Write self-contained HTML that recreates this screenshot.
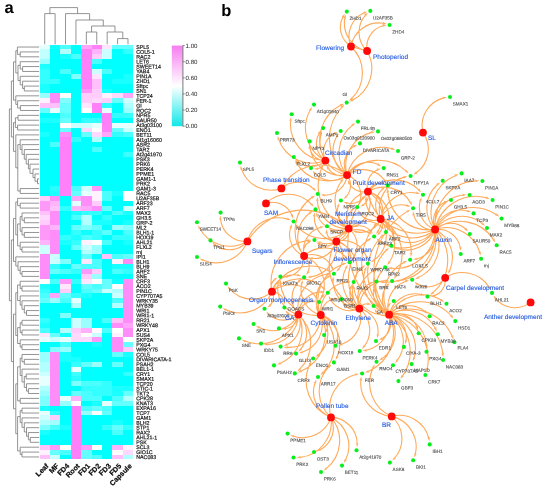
<!DOCTYPE html>
<html><head><meta charset="utf-8"><title>Figure</title>
<style>
html,body{margin:0;padding:0;background:#fff;}
body{width:550px;height:490px;overflow:hidden;font-family:"Liberation Sans",Arial,sans-serif;}
svg{display:block;text-rendering:geometricPrecision;}
</style></head><body>
<svg width="550" height="490" viewBox="0 0 550 490">
<g shape-rendering="crispEdges">
<rect x="39.5" y="44.6" width="93.70" height="414.80" fill="#00ffff"/>
<rect x="39.50" y="44.60" width="10.41" height="4.88" fill="#e6ffff"/>
<rect x="49.91" y="44.60" width="10.41" height="4.88" fill="#0fffff"/>
<rect x="60.32" y="44.60" width="10.41" height="4.88" fill="#4cffff"/>
<rect x="81.14" y="44.60" width="10.41" height="4.88" fill="#ffa6fa"/>
<rect x="91.56" y="44.60" width="10.41" height="4.88" fill="#ff80f8"/>
<rect x="101.97" y="44.60" width="10.41" height="4.88" fill="#ffe6fe"/>
<rect x="112.38" y="44.60" width="10.41" height="4.88" fill="#66ffff"/>
<rect x="122.79" y="44.60" width="10.41" height="4.88" fill="#66ffff"/>
<rect x="39.50" y="49.48" width="10.41" height="4.88" fill="#c2ffff"/>
<rect x="60.32" y="49.48" width="10.41" height="4.88" fill="#b2ffff"/>
<rect x="81.14" y="49.48" width="10.41" height="4.88" fill="#ff80f8"/>
<rect x="91.56" y="49.48" width="10.41" height="4.88" fill="#ffb3fb"/>
<rect x="101.97" y="49.48" width="10.41" height="4.88" fill="#ccffff"/>
<rect x="122.79" y="49.48" width="10.41" height="4.88" fill="#33ffff"/>
<rect x="39.50" y="54.36" width="10.41" height="4.88" fill="#c2ffff"/>
<rect x="60.32" y="54.36" width="10.41" height="4.88" fill="#1affff"/>
<rect x="70.73" y="54.36" width="10.41" height="4.88" fill="#4cffff"/>
<rect x="81.14" y="54.36" width="10.41" height="4.88" fill="#ff80f8"/>
<rect x="91.56" y="54.36" width="10.41" height="4.88" fill="#ffccfc"/>
<rect x="101.97" y="54.36" width="10.41" height="4.88" fill="#ccffff"/>
<rect x="39.50" y="59.24" width="10.41" height="4.88" fill="#99ffff"/>
<rect x="81.14" y="59.24" width="10.41" height="4.88" fill="#ff80f8"/>
<rect x="91.56" y="59.24" width="10.41" height="4.88" fill="#4cffff"/>
<rect x="39.50" y="64.12" width="10.41" height="4.88" fill="#1affff"/>
<rect x="81.14" y="64.12" width="10.41" height="4.88" fill="#ff80f8"/>
<rect x="39.50" y="69.00" width="10.41" height="4.88" fill="#33ffff"/>
<rect x="60.32" y="69.00" width="10.41" height="4.88" fill="#4cffff"/>
<rect x="81.14" y="69.00" width="10.41" height="4.88" fill="#ff80f8"/>
<rect x="91.56" y="69.00" width="10.41" height="4.88" fill="#ccffff"/>
<rect x="101.97" y="69.00" width="10.41" height="4.88" fill="#4cffff"/>
<rect x="39.50" y="73.88" width="10.41" height="4.88" fill="#33ffff"/>
<rect x="70.73" y="73.88" width="10.41" height="4.88" fill="#80ffff"/>
<rect x="81.14" y="73.88" width="10.41" height="4.88" fill="#ff80f8"/>
<rect x="91.56" y="73.88" width="10.41" height="4.88" fill="#ffe6fe"/>
<rect x="122.79" y="73.88" width="10.41" height="4.88" fill="#1affff"/>
<rect x="39.50" y="78.76" width="10.41" height="4.88" fill="#33ffff"/>
<rect x="49.91" y="78.76" width="10.41" height="4.88" fill="#33ffff"/>
<rect x="81.14" y="78.76" width="10.41" height="4.88" fill="#ff80f8"/>
<rect x="91.56" y="78.76" width="10.41" height="4.88" fill="#ffc0fc"/>
<rect x="112.38" y="78.76" width="10.41" height="4.88" fill="#1affff"/>
<rect x="122.79" y="78.76" width="10.41" height="4.88" fill="#1affff"/>
<rect x="39.50" y="83.64" width="10.41" height="4.88" fill="#1affff"/>
<rect x="81.14" y="83.64" width="10.41" height="4.88" fill="#ff80f8"/>
<rect x="91.56" y="83.64" width="10.41" height="4.88" fill="#ffc0fc"/>
<rect x="39.50" y="88.52" width="10.41" height="4.88" fill="#1affff"/>
<rect x="81.14" y="88.52" width="10.41" height="4.88" fill="#ff94f9"/>
<rect x="91.56" y="88.52" width="10.41" height="4.88" fill="#ffccfc"/>
<rect x="101.97" y="88.52" width="10.41" height="4.88" fill="#1affff"/>
<rect x="39.50" y="93.40" width="10.41" height="4.88" fill="#99ffff"/>
<rect x="49.91" y="93.40" width="10.41" height="4.88" fill="#ff8df9"/>
<rect x="60.32" y="93.40" width="10.41" height="4.88" fill="#ffffff"/>
<rect x="81.14" y="93.40" width="10.41" height="4.88" fill="#ffccfc"/>
<rect x="91.56" y="93.40" width="10.41" height="4.88" fill="#ffccfc"/>
<rect x="101.97" y="93.40" width="10.41" height="4.88" fill="#fff2fe"/>
<rect x="112.38" y="93.40" width="10.41" height="4.88" fill="#ffd9fd"/>
<rect x="122.79" y="93.40" width="10.41" height="4.88" fill="#ffa6fa"/>
<rect x="39.50" y="98.28" width="10.41" height="4.88" fill="#fff2fe"/>
<rect x="49.91" y="98.28" width="10.41" height="4.88" fill="#ff8df9"/>
<rect x="60.32" y="98.28" width="10.41" height="4.88" fill="#80ffff"/>
<rect x="81.14" y="98.28" width="10.41" height="4.88" fill="#ffccfc"/>
<rect x="91.56" y="98.28" width="10.41" height="4.88" fill="#ffd9fd"/>
<rect x="101.97" y="98.28" width="10.41" height="4.88" fill="#ffccfc"/>
<rect x="112.38" y="98.28" width="10.41" height="4.88" fill="#66ffff"/>
<rect x="122.79" y="98.28" width="10.41" height="4.88" fill="#ccffff"/>
<rect x="39.50" y="103.16" width="10.41" height="4.88" fill="#ffc0fc"/>
<rect x="49.91" y="103.16" width="10.41" height="4.88" fill="#ffc0fc"/>
<rect x="60.32" y="103.16" width="10.41" height="4.88" fill="#66ffff"/>
<rect x="81.14" y="103.16" width="10.41" height="4.88" fill="#ffe6fe"/>
<rect x="91.56" y="103.16" width="10.41" height="4.88" fill="#ff80f8"/>
<rect x="101.97" y="103.16" width="10.41" height="4.88" fill="#33ffff"/>
<rect x="122.79" y="103.16" width="10.41" height="4.88" fill="#b2ffff"/>
<rect x="39.50" y="108.04" width="10.41" height="4.88" fill="#66ffff"/>
<rect x="49.91" y="108.04" width="10.41" height="4.88" fill="#e6ffff"/>
<rect x="60.32" y="108.04" width="10.41" height="4.88" fill="#66ffff"/>
<rect x="81.14" y="108.04" width="10.41" height="4.88" fill="#ffffff"/>
<rect x="91.56" y="108.04" width="10.41" height="4.88" fill="#ff80f8"/>
<rect x="101.97" y="108.04" width="10.41" height="4.88" fill="#e6ffff"/>
<rect x="122.79" y="108.04" width="10.41" height="4.88" fill="#99ffff"/>
<rect x="60.32" y="112.92" width="10.41" height="4.88" fill="#4cffff"/>
<rect x="101.97" y="112.92" width="10.41" height="4.88" fill="#ff80f8"/>
<rect x="112.38" y="112.92" width="10.41" height="4.88" fill="#33ffff"/>
<rect x="122.79" y="112.92" width="10.41" height="4.88" fill="#33ffff"/>
<rect x="39.50" y="117.80" width="10.41" height="4.88" fill="#1affff"/>
<rect x="49.91" y="117.80" width="10.41" height="4.88" fill="#1affff"/>
<rect x="60.32" y="117.80" width="10.41" height="4.88" fill="#66ffff"/>
<rect x="81.14" y="117.80" width="10.41" height="4.88" fill="#33ffff"/>
<rect x="91.56" y="117.80" width="10.41" height="4.88" fill="#33ffff"/>
<rect x="101.97" y="117.80" width="10.41" height="4.88" fill="#ff80f8"/>
<rect x="60.32" y="122.68" width="10.41" height="4.88" fill="#ffffff"/>
<rect x="70.73" y="122.68" width="10.41" height="4.88" fill="#ccffff"/>
<rect x="81.14" y="122.68" width="10.41" height="4.88" fill="#ccffff"/>
<rect x="91.56" y="122.68" width="10.41" height="4.88" fill="#e6ffff"/>
<rect x="101.97" y="122.68" width="10.41" height="4.88" fill="#ff80f8"/>
<rect x="112.38" y="122.68" width="10.41" height="4.88" fill="#e6ffff"/>
<rect x="122.79" y="122.68" width="10.41" height="4.88" fill="#e6ffff"/>
<rect x="60.32" y="127.56" width="10.41" height="4.88" fill="#66ffff"/>
<rect x="81.14" y="127.56" width="10.41" height="4.88" fill="#ffd9fd"/>
<rect x="91.56" y="127.56" width="10.41" height="4.88" fill="#ffffff"/>
<rect x="101.97" y="127.56" width="10.41" height="4.88" fill="#ff80f8"/>
<rect x="112.38" y="127.56" width="10.41" height="4.88" fill="#66ffff"/>
<rect x="122.79" y="127.56" width="10.41" height="4.88" fill="#ccffff"/>
<rect x="39.50" y="132.44" width="10.41" height="4.88" fill="#1affff"/>
<rect x="60.32" y="132.44" width="10.41" height="4.88" fill="#ff8df9"/>
<rect x="81.14" y="132.44" width="10.41" height="4.88" fill="#66ffff"/>
<rect x="91.56" y="132.44" width="10.41" height="4.88" fill="#ffd9fd"/>
<rect x="101.97" y="132.44" width="10.41" height="4.88" fill="#ffa6fa"/>
<rect x="112.38" y="132.44" width="10.41" height="4.88" fill="#33ffff"/>
<rect x="122.79" y="132.44" width="10.41" height="4.88" fill="#4cffff"/>
<rect x="60.32" y="137.32" width="10.41" height="4.88" fill="#ff80f8"/>
<rect x="70.73" y="137.32" width="10.41" height="4.88" fill="#33ffff"/>
<rect x="91.56" y="137.32" width="10.41" height="4.88" fill="#b2ffff"/>
<rect x="49.91" y="142.20" width="10.41" height="4.88" fill="#4cffff"/>
<rect x="60.32" y="142.20" width="10.41" height="4.88" fill="#ff80f8"/>
<rect x="60.32" y="147.08" width="10.41" height="4.88" fill="#ff80f8"/>
<rect x="91.56" y="147.08" width="10.41" height="4.88" fill="#4cffff"/>
<rect x="60.32" y="151.96" width="10.41" height="4.88" fill="#ff80f8"/>
<rect x="122.79" y="151.96" width="10.41" height="4.88" fill="#3dffff"/>
<rect x="60.32" y="156.84" width="10.41" height="4.88" fill="#ff80f8"/>
<rect x="60.32" y="161.72" width="10.41" height="4.88" fill="#ff80f8"/>
<rect x="60.32" y="166.60" width="10.41" height="4.88" fill="#ff80f8"/>
<rect x="60.32" y="171.48" width="10.41" height="4.88" fill="#ff80f8"/>
<rect x="60.32" y="176.36" width="10.41" height="4.88" fill="#ff80f8"/>
<rect x="60.32" y="181.24" width="10.41" height="4.88" fill="#ff80f8"/>
<rect x="49.91" y="186.12" width="10.41" height="4.88" fill="#29ffff"/>
<rect x="60.32" y="186.12" width="10.41" height="4.88" fill="#ff80f8"/>
<rect x="70.73" y="186.12" width="10.41" height="4.88" fill="#4cffff"/>
<rect x="81.14" y="186.12" width="10.41" height="4.88" fill="#ccffff"/>
<rect x="91.56" y="186.12" width="10.41" height="4.88" fill="#ff99f9"/>
<rect x="49.91" y="191.00" width="10.41" height="4.88" fill="#1affff"/>
<rect x="60.32" y="191.00" width="10.41" height="4.88" fill="#ff80f8"/>
<rect x="70.73" y="191.00" width="10.41" height="4.88" fill="#66ffff"/>
<rect x="81.14" y="191.00" width="10.41" height="4.88" fill="#e6ffff"/>
<rect x="91.56" y="191.00" width="10.41" height="4.88" fill="#fff2fe"/>
<rect x="101.97" y="191.00" width="10.41" height="4.88" fill="#4cffff"/>
<rect x="112.38" y="191.00" width="10.41" height="4.88" fill="#1affff"/>
<rect x="122.79" y="191.00" width="10.41" height="4.88" fill="#ffffff"/>
<rect x="39.50" y="195.88" width="10.41" height="4.88" fill="#ffccfc"/>
<rect x="49.91" y="195.88" width="10.41" height="4.88" fill="#ff8df9"/>
<rect x="70.73" y="195.88" width="10.41" height="4.88" fill="#ffa6fa"/>
<rect x="81.14" y="195.88" width="10.41" height="4.88" fill="#ff8df9"/>
<rect x="91.56" y="195.88" width="10.41" height="4.88" fill="#fff2fe"/>
<rect x="101.97" y="195.88" width="10.41" height="4.88" fill="#4cffff"/>
<rect x="122.79" y="195.88" width="10.41" height="4.88" fill="#ffffff"/>
<rect x="39.50" y="200.76" width="10.41" height="4.88" fill="#ff99f9"/>
<rect x="49.91" y="200.76" width="10.41" height="4.88" fill="#ffb3fb"/>
<rect x="70.73" y="200.76" width="10.41" height="4.88" fill="#e6ffff"/>
<rect x="81.14" y="200.76" width="10.41" height="4.88" fill="#ff8df9"/>
<rect x="91.56" y="200.76" width="10.41" height="4.88" fill="#ffccfc"/>
<rect x="39.50" y="205.64" width="10.41" height="4.88" fill="#ff99f9"/>
<rect x="49.91" y="205.64" width="10.41" height="4.88" fill="#ffc0fc"/>
<rect x="60.32" y="205.64" width="10.41" height="4.88" fill="#33ffff"/>
<rect x="70.73" y="205.64" width="10.41" height="4.88" fill="#ffb3fb"/>
<rect x="81.14" y="205.64" width="10.41" height="4.88" fill="#ffa6fa"/>
<rect x="91.56" y="205.64" width="10.41" height="4.88" fill="#ff8df9"/>
<rect x="101.97" y="205.64" width="10.41" height="4.88" fill="#66ffff"/>
<rect x="122.79" y="205.64" width="10.41" height="4.88" fill="#ccffff"/>
<rect x="39.50" y="210.52" width="10.41" height="4.88" fill="#ffc0fc"/>
<rect x="49.91" y="210.52" width="10.41" height="4.88" fill="#ff8df9"/>
<rect x="70.73" y="210.52" width="10.41" height="4.88" fill="#1affff"/>
<rect x="81.14" y="210.52" width="10.41" height="4.88" fill="#33ffff"/>
<rect x="91.56" y="210.52" width="10.41" height="4.88" fill="#33ffff"/>
<rect x="112.38" y="210.52" width="10.41" height="4.88" fill="#4cffff"/>
<rect x="122.79" y="210.52" width="10.41" height="4.88" fill="#1affff"/>
<rect x="39.50" y="215.40" width="10.41" height="4.88" fill="#ffd9fd"/>
<rect x="49.91" y="215.40" width="10.41" height="4.88" fill="#ff8df9"/>
<rect x="70.73" y="215.40" width="10.41" height="4.88" fill="#4cffff"/>
<rect x="81.14" y="215.40" width="10.41" height="4.88" fill="#b2ffff"/>
<rect x="101.97" y="215.40" width="10.41" height="4.88" fill="#33ffff"/>
<rect x="39.50" y="220.28" width="10.41" height="4.88" fill="#ffccfc"/>
<rect x="49.91" y="220.28" width="10.41" height="4.88" fill="#ff8df9"/>
<rect x="81.14" y="220.28" width="10.41" height="4.88" fill="#b2ffff"/>
<rect x="91.56" y="220.28" width="10.41" height="4.88" fill="#1affff"/>
<rect x="101.97" y="220.28" width="10.41" height="4.88" fill="#1affff"/>
<rect x="122.79" y="220.28" width="10.41" height="4.88" fill="#1affff"/>
<rect x="39.50" y="225.16" width="10.41" height="4.88" fill="#ff99f9"/>
<rect x="49.91" y="225.16" width="10.41" height="4.88" fill="#ffb3fb"/>
<rect x="70.73" y="225.16" width="10.41" height="4.88" fill="#66ffff"/>
<rect x="81.14" y="225.16" width="10.41" height="4.88" fill="#80ffff"/>
<rect x="91.56" y="225.16" width="10.41" height="4.88" fill="#66ffff"/>
<rect x="112.38" y="225.16" width="10.41" height="4.88" fill="#99ffff"/>
<rect x="122.79" y="225.16" width="10.41" height="4.88" fill="#80ffff"/>
<rect x="39.50" y="230.04" width="10.41" height="4.88" fill="#ff99f9"/>
<rect x="49.91" y="230.04" width="10.41" height="4.88" fill="#ff8df9"/>
<rect x="70.73" y="230.04" width="10.41" height="4.88" fill="#33ffff"/>
<rect x="81.14" y="230.04" width="10.41" height="4.88" fill="#0fffff"/>
<rect x="91.56" y="230.04" width="10.41" height="4.88" fill="#33ffff"/>
<rect x="101.97" y="230.04" width="10.41" height="4.88" fill="#5cffff"/>
<rect x="122.79" y="230.04" width="10.41" height="4.88" fill="#4cffff"/>
<rect x="39.50" y="234.92" width="10.41" height="4.88" fill="#ff99f9"/>
<rect x="49.91" y="234.92" width="10.41" height="4.88" fill="#ff8df9"/>
<rect x="60.32" y="234.92" width="10.41" height="4.88" fill="#33ffff"/>
<rect x="70.73" y="234.92" width="10.41" height="4.88" fill="#1affff"/>
<rect x="81.14" y="234.92" width="10.41" height="4.88" fill="#4cffff"/>
<rect x="91.56" y="234.92" width="10.41" height="4.88" fill="#33ffff"/>
<rect x="112.38" y="234.92" width="10.41" height="4.88" fill="#33ffff"/>
<rect x="122.79" y="234.92" width="10.41" height="4.88" fill="#33ffff"/>
<rect x="39.50" y="239.80" width="10.41" height="4.88" fill="#ffb3fb"/>
<rect x="49.91" y="239.80" width="10.41" height="4.88" fill="#ff8df9"/>
<rect x="60.32" y="239.80" width="10.41" height="4.88" fill="#1affff"/>
<rect x="70.73" y="239.80" width="10.41" height="4.88" fill="#33ffff"/>
<rect x="81.14" y="239.80" width="10.41" height="4.88" fill="#fff2fe"/>
<rect x="91.56" y="239.80" width="10.41" height="4.88" fill="#ffffff"/>
<rect x="101.97" y="239.80" width="10.41" height="4.88" fill="#4cffff"/>
<rect x="122.79" y="239.80" width="10.41" height="4.88" fill="#1affff"/>
<rect x="39.50" y="244.68" width="10.41" height="4.88" fill="#ccffff"/>
<rect x="49.91" y="244.68" width="10.41" height="4.88" fill="#ff8df9"/>
<rect x="70.73" y="244.68" width="10.41" height="4.88" fill="#66ffff"/>
<rect x="81.14" y="244.68" width="10.41" height="4.88" fill="#ccffff"/>
<rect x="91.56" y="244.68" width="10.41" height="4.88" fill="#99ffff"/>
<rect x="39.50" y="249.56" width="10.41" height="4.88" fill="#ccffff"/>
<rect x="49.91" y="249.56" width="10.41" height="4.88" fill="#ff8df9"/>
<rect x="81.14" y="249.56" width="10.41" height="4.88" fill="#b2ffff"/>
<rect x="91.56" y="249.56" width="10.41" height="4.88" fill="#99ffff"/>
<rect x="39.50" y="254.44" width="10.41" height="4.88" fill="#ff8df9"/>
<rect x="49.91" y="254.44" width="10.41" height="4.88" fill="#ccffff"/>
<rect x="81.14" y="254.44" width="10.41" height="4.88" fill="#66ffff"/>
<rect x="101.97" y="254.44" width="10.41" height="4.88" fill="#ffc0fc"/>
<rect x="112.38" y="254.44" width="10.41" height="4.88" fill="#4cffff"/>
<rect x="122.79" y="254.44" width="10.41" height="4.88" fill="#66ffff"/>
<rect x="39.50" y="259.32" width="10.41" height="4.88" fill="#ff8df9"/>
<rect x="49.91" y="259.32" width="10.41" height="4.88" fill="#ccffff"/>
<rect x="60.32" y="259.32" width="10.41" height="4.88" fill="#80ffff"/>
<rect x="81.14" y="259.32" width="10.41" height="4.88" fill="#ffe6fe"/>
<rect x="91.56" y="259.32" width="10.41" height="4.88" fill="#4cffff"/>
<rect x="112.38" y="259.32" width="10.41" height="4.88" fill="#fff2fe"/>
<rect x="122.79" y="259.32" width="10.41" height="4.88" fill="#ff8df9"/>
<rect x="39.50" y="264.20" width="10.41" height="4.88" fill="#ff8df9"/>
<rect x="49.91" y="264.20" width="10.41" height="4.88" fill="#33ffff"/>
<rect x="70.73" y="264.20" width="10.41" height="4.88" fill="#66ffff"/>
<rect x="81.14" y="264.20" width="10.41" height="4.88" fill="#4cffff"/>
<rect x="91.56" y="264.20" width="10.41" height="4.88" fill="#4cffff"/>
<rect x="112.38" y="264.20" width="10.41" height="4.88" fill="#1affff"/>
<rect x="122.79" y="264.20" width="10.41" height="4.88" fill="#1affff"/>
<rect x="39.50" y="269.08" width="10.41" height="4.88" fill="#ff8df9"/>
<rect x="49.91" y="269.08" width="10.41" height="4.88" fill="#66ffff"/>
<rect x="60.32" y="269.08" width="10.41" height="4.88" fill="#4cffff"/>
<rect x="70.73" y="269.08" width="10.41" height="4.88" fill="#33ffff"/>
<rect x="81.14" y="269.08" width="10.41" height="4.88" fill="#ff99f9"/>
<rect x="91.56" y="269.08" width="10.41" height="4.88" fill="#ffccfc"/>
<rect x="112.38" y="269.08" width="10.41" height="4.88" fill="#4cffff"/>
<rect x="122.79" y="269.08" width="10.41" height="4.88" fill="#33ffff"/>
<rect x="39.50" y="273.96" width="10.41" height="4.88" fill="#ff8df9"/>
<rect x="81.14" y="273.96" width="10.41" height="4.88" fill="#ffccfc"/>
<rect x="91.56" y="273.96" width="10.41" height="4.88" fill="#99ffff"/>
<rect x="39.50" y="278.84" width="10.41" height="4.88" fill="#ffffff"/>
<rect x="49.91" y="278.84" width="10.41" height="4.88" fill="#4cffff"/>
<rect x="60.32" y="278.84" width="10.41" height="4.88" fill="#ff99f9"/>
<rect x="70.73" y="278.84" width="10.41" height="4.88" fill="#33ffff"/>
<rect x="81.14" y="278.84" width="10.41" height="4.88" fill="#ffe6fe"/>
<rect x="91.56" y="278.84" width="10.41" height="4.88" fill="#ffffff"/>
<rect x="101.97" y="278.84" width="10.41" height="4.88" fill="#66ffff"/>
<rect x="112.38" y="278.84" width="10.41" height="4.88" fill="#0fffff"/>
<rect x="122.79" y="278.84" width="10.41" height="4.88" fill="#ff8df9"/>
<rect x="39.50" y="283.72" width="10.41" height="4.88" fill="#1affff"/>
<rect x="60.32" y="283.72" width="10.41" height="4.88" fill="#ffe6fe"/>
<rect x="81.14" y="283.72" width="10.41" height="4.88" fill="#66ffff"/>
<rect x="91.56" y="283.72" width="10.41" height="4.88" fill="#4cffff"/>
<rect x="101.97" y="283.72" width="10.41" height="4.88" fill="#66ffff"/>
<rect x="112.38" y="283.72" width="10.41" height="4.88" fill="#ffffff"/>
<rect x="122.79" y="283.72" width="10.41" height="4.88" fill="#ff8df9"/>
<rect x="39.50" y="288.60" width="10.41" height="4.88" fill="#33ffff"/>
<rect x="60.32" y="288.60" width="10.41" height="4.88" fill="#ffccfc"/>
<rect x="81.14" y="288.60" width="10.41" height="4.88" fill="#4cffff"/>
<rect x="91.56" y="288.60" width="10.41" height="4.88" fill="#66ffff"/>
<rect x="101.97" y="288.60" width="10.41" height="4.88" fill="#ccffff"/>
<rect x="112.38" y="288.60" width="10.41" height="4.88" fill="#b2ffff"/>
<rect x="122.79" y="288.60" width="10.41" height="4.88" fill="#ff8df9"/>
<rect x="39.50" y="293.48" width="10.41" height="4.88" fill="#4cffff"/>
<rect x="49.91" y="293.48" width="10.41" height="4.88" fill="#ffa6fa"/>
<rect x="60.32" y="293.48" width="10.41" height="4.88" fill="#66ffff"/>
<rect x="70.73" y="293.48" width="10.41" height="4.88" fill="#33ffff"/>
<rect x="81.14" y="293.48" width="10.41" height="4.88" fill="#1affff"/>
<rect x="112.38" y="293.48" width="10.41" height="4.88" fill="#ccffff"/>
<rect x="122.79" y="293.48" width="10.41" height="4.88" fill="#ff8df9"/>
<rect x="39.50" y="298.36" width="10.41" height="4.88" fill="#66ffff"/>
<rect x="49.91" y="298.36" width="10.41" height="4.88" fill="#99ffff"/>
<rect x="60.32" y="298.36" width="10.41" height="4.88" fill="#4cffff"/>
<rect x="70.73" y="298.36" width="10.41" height="4.88" fill="#e6ffff"/>
<rect x="112.38" y="298.36" width="10.41" height="4.88" fill="#4cffff"/>
<rect x="122.79" y="298.36" width="10.41" height="4.88" fill="#ff8df9"/>
<rect x="70.73" y="303.24" width="10.41" height="4.88" fill="#b2ffff"/>
<rect x="112.38" y="303.24" width="10.41" height="4.88" fill="#b2ffff"/>
<rect x="122.79" y="303.24" width="10.41" height="4.88" fill="#ff8df9"/>
<rect x="122.79" y="308.12" width="10.41" height="4.88" fill="#ff8df9"/>
<rect x="60.32" y="313.00" width="10.41" height="4.88" fill="#80ffff"/>
<rect x="122.79" y="313.00" width="10.41" height="4.88" fill="#ff8df9"/>
<rect x="39.50" y="317.88" width="10.41" height="4.88" fill="#33ffff"/>
<rect x="70.73" y="317.88" width="10.41" height="4.88" fill="#ccffff"/>
<rect x="81.14" y="317.88" width="10.41" height="4.88" fill="#99ffff"/>
<rect x="101.97" y="317.88" width="10.41" height="4.88" fill="#4cffff"/>
<rect x="112.38" y="317.88" width="10.41" height="4.88" fill="#ffc0fc"/>
<rect x="122.79" y="317.88" width="10.41" height="4.88" fill="#ff8df9"/>
<rect x="39.50" y="322.76" width="10.41" height="4.88" fill="#1affff"/>
<rect x="70.73" y="322.76" width="10.41" height="4.88" fill="#ccffff"/>
<rect x="81.14" y="322.76" width="10.41" height="4.88" fill="#99ffff"/>
<rect x="112.38" y="322.76" width="10.41" height="4.88" fill="#ff8df9"/>
<rect x="122.79" y="322.76" width="10.41" height="4.88" fill="#ffa6fa"/>
<rect x="39.50" y="327.64" width="10.41" height="4.88" fill="#4cffff"/>
<rect x="60.32" y="327.64" width="10.41" height="4.88" fill="#b2ffff"/>
<rect x="70.73" y="327.64" width="10.41" height="4.88" fill="#ffccfc"/>
<rect x="81.14" y="327.64" width="10.41" height="4.88" fill="#ffaefb"/>
<rect x="91.56" y="327.64" width="10.41" height="4.88" fill="#fffaff"/>
<rect x="101.97" y="327.64" width="10.41" height="4.88" fill="#4cffff"/>
<rect x="112.38" y="327.64" width="10.41" height="4.88" fill="#ffffff"/>
<rect x="122.79" y="327.64" width="10.41" height="4.88" fill="#ff8df9"/>
<rect x="39.50" y="332.52" width="10.41" height="4.88" fill="#ffe6fe"/>
<rect x="49.91" y="332.52" width="10.41" height="4.88" fill="#66ffff"/>
<rect x="60.32" y="332.52" width="10.41" height="4.88" fill="#1affff"/>
<rect x="70.73" y="332.52" width="10.41" height="4.88" fill="#ffd9fd"/>
<rect x="81.14" y="332.52" width="10.41" height="4.88" fill="#ffffff"/>
<rect x="91.56" y="332.52" width="10.41" height="4.88" fill="#ccffff"/>
<rect x="112.38" y="332.52" width="10.41" height="4.88" fill="#fff2fe"/>
<rect x="122.79" y="332.52" width="10.41" height="4.88" fill="#ff8df9"/>
<rect x="39.50" y="337.40" width="10.41" height="4.88" fill="#e6ffff"/>
<rect x="49.91" y="337.40" width="10.41" height="4.88" fill="#ccffff"/>
<rect x="60.32" y="337.40" width="10.41" height="4.88" fill="#e6ffff"/>
<rect x="70.73" y="337.40" width="10.41" height="4.88" fill="#ffd9fd"/>
<rect x="81.14" y="337.40" width="10.41" height="4.88" fill="#ffd9fd"/>
<rect x="91.56" y="337.40" width="10.41" height="4.88" fill="#ff99f9"/>
<rect x="112.38" y="337.40" width="10.41" height="4.88" fill="#ff8df9"/>
<rect x="122.79" y="337.40" width="10.41" height="4.88" fill="#ffffff"/>
<rect x="60.32" y="342.28" width="10.41" height="4.88" fill="#4cffff"/>
<rect x="91.56" y="342.28" width="10.41" height="4.88" fill="#1affff"/>
<rect x="112.38" y="342.28" width="10.41" height="4.88" fill="#ff8df9"/>
<rect x="122.79" y="342.28" width="10.41" height="4.88" fill="#66ffff"/>
<rect x="49.91" y="347.16" width="10.41" height="4.88" fill="#80ffff"/>
<rect x="60.32" y="347.16" width="10.41" height="4.88" fill="#99ffff"/>
<rect x="112.38" y="347.16" width="10.41" height="4.88" fill="#ff8df9"/>
<rect x="122.79" y="347.16" width="10.41" height="4.88" fill="#ffccfc"/>
<rect x="39.50" y="352.04" width="10.41" height="4.88" fill="#99ffff"/>
<rect x="49.91" y="352.04" width="10.41" height="4.88" fill="#ff8df9"/>
<rect x="60.32" y="352.04" width="10.41" height="4.88" fill="#1affff"/>
<rect x="112.38" y="352.04" width="10.41" height="4.88" fill="#66ffff"/>
<rect x="122.79" y="352.04" width="10.41" height="4.88" fill="#1affff"/>
<rect x="39.50" y="356.92" width="10.41" height="4.88" fill="#99ffff"/>
<rect x="49.91" y="356.92" width="10.41" height="4.88" fill="#ff8df9"/>
<rect x="60.32" y="356.92" width="10.41" height="4.88" fill="#1affff"/>
<rect x="70.73" y="356.92" width="10.41" height="4.88" fill="#1affff"/>
<rect x="39.50" y="361.80" width="10.41" height="4.88" fill="#b2ffff"/>
<rect x="49.91" y="361.80" width="10.41" height="4.88" fill="#ff8df9"/>
<rect x="70.73" y="361.80" width="10.41" height="4.88" fill="#33ffff"/>
<rect x="81.14" y="361.80" width="10.41" height="4.88" fill="#66ffff"/>
<rect x="91.56" y="361.80" width="10.41" height="4.88" fill="#99ffff"/>
<rect x="112.38" y="361.80" width="10.41" height="4.88" fill="#66ffff"/>
<rect x="39.50" y="366.68" width="10.41" height="4.88" fill="#b2ffff"/>
<rect x="49.91" y="366.68" width="10.41" height="4.88" fill="#ff8df9"/>
<rect x="70.73" y="366.68" width="10.41" height="4.88" fill="#e6ffff"/>
<rect x="39.50" y="371.56" width="10.41" height="4.88" fill="#ccffff"/>
<rect x="49.91" y="371.56" width="10.41" height="4.88" fill="#ff8df9"/>
<rect x="70.73" y="371.56" width="10.41" height="4.88" fill="#3dffff"/>
<rect x="122.79" y="371.56" width="10.41" height="4.88" fill="#33ffff"/>
<rect x="39.50" y="376.44" width="10.41" height="4.88" fill="#e6ffff"/>
<rect x="49.91" y="376.44" width="10.41" height="4.88" fill="#ff8df9"/>
<rect x="70.73" y="376.44" width="10.41" height="4.88" fill="#29ffff"/>
<rect x="39.50" y="381.32" width="10.41" height="4.88" fill="#e6ffff"/>
<rect x="49.91" y="381.32" width="10.41" height="4.88" fill="#ff8df9"/>
<rect x="70.73" y="381.32" width="10.41" height="4.88" fill="#80ffff"/>
<rect x="81.14" y="381.32" width="10.41" height="4.88" fill="#4cffff"/>
<rect x="91.56" y="381.32" width="10.41" height="4.88" fill="#4cffff"/>
<rect x="101.97" y="381.32" width="10.41" height="4.88" fill="#33ffff"/>
<rect x="39.50" y="386.20" width="10.41" height="4.88" fill="#b2ffff"/>
<rect x="49.91" y="386.20" width="10.41" height="4.88" fill="#ff8df9"/>
<rect x="81.14" y="386.20" width="10.41" height="4.88" fill="#33ffff"/>
<rect x="91.56" y="386.20" width="10.41" height="4.88" fill="#33ffff"/>
<rect x="101.97" y="386.20" width="10.41" height="4.88" fill="#33ffff"/>
<rect x="112.38" y="386.20" width="10.41" height="4.88" fill="#1affff"/>
<rect x="122.79" y="386.20" width="10.41" height="4.88" fill="#1affff"/>
<rect x="39.50" y="391.08" width="10.41" height="4.88" fill="#99ffff"/>
<rect x="49.91" y="391.08" width="10.41" height="4.88" fill="#ff8df9"/>
<rect x="70.73" y="391.08" width="10.41" height="4.88" fill="#66ffff"/>
<rect x="81.14" y="391.08" width="10.41" height="4.88" fill="#4cffff"/>
<rect x="91.56" y="391.08" width="10.41" height="4.88" fill="#33ffff"/>
<rect x="101.97" y="391.08" width="10.41" height="4.88" fill="#33ffff"/>
<rect x="112.38" y="391.08" width="10.41" height="4.88" fill="#1affff"/>
<rect x="122.79" y="391.08" width="10.41" height="4.88" fill="#66ffff"/>
<rect x="39.50" y="395.96" width="10.41" height="4.88" fill="#80ffff"/>
<rect x="49.91" y="395.96" width="10.41" height="4.88" fill="#ff8df9"/>
<rect x="60.32" y="395.96" width="10.41" height="4.88" fill="#e6ffff"/>
<rect x="70.73" y="395.96" width="10.41" height="4.88" fill="#ffb3fb"/>
<rect x="81.14" y="395.96" width="10.41" height="4.88" fill="#4cffff"/>
<rect x="91.56" y="395.96" width="10.41" height="4.88" fill="#4cffff"/>
<rect x="112.38" y="395.96" width="10.41" height="4.88" fill="#4cffff"/>
<rect x="122.79" y="395.96" width="10.41" height="4.88" fill="#b2ffff"/>
<rect x="39.50" y="400.84" width="10.41" height="4.88" fill="#80ffff"/>
<rect x="49.91" y="400.84" width="10.41" height="4.88" fill="#ff8df9"/>
<rect x="60.32" y="400.84" width="10.41" height="4.88" fill="#99ffff"/>
<rect x="70.73" y="400.84" width="10.41" height="4.88" fill="#ffffff"/>
<rect x="91.56" y="400.84" width="10.41" height="4.88" fill="#1affff"/>
<rect x="101.97" y="400.84" width="10.41" height="4.88" fill="#e6ffff"/>
<rect x="112.38" y="400.84" width="10.41" height="4.88" fill="#66ffff"/>
<rect x="122.79" y="400.84" width="10.41" height="4.88" fill="#66ffff"/>
<rect x="39.50" y="405.72" width="10.41" height="4.88" fill="#1affff"/>
<rect x="70.73" y="405.72" width="10.41" height="4.88" fill="#ff80f8"/>
<rect x="81.14" y="405.72" width="10.41" height="4.88" fill="#4cffff"/>
<rect x="91.56" y="405.72" width="10.41" height="4.88" fill="#66ffff"/>
<rect x="101.97" y="405.72" width="10.41" height="4.88" fill="#4cffff"/>
<rect x="39.50" y="410.60" width="10.41" height="4.88" fill="#e6ffff"/>
<rect x="49.91" y="410.60" width="10.41" height="4.88" fill="#33ffff"/>
<rect x="70.73" y="410.60" width="10.41" height="4.88" fill="#ff80f8"/>
<rect x="81.14" y="410.60" width="10.41" height="4.88" fill="#99ffff"/>
<rect x="91.56" y="410.60" width="10.41" height="4.88" fill="#ffffff"/>
<rect x="101.97" y="410.60" width="10.41" height="4.88" fill="#66ffff"/>
<rect x="39.50" y="415.48" width="10.41" height="4.88" fill="#ccffff"/>
<rect x="49.91" y="415.48" width="10.41" height="4.88" fill="#ffccfc"/>
<rect x="70.73" y="415.48" width="10.41" height="4.88" fill="#ff80f8"/>
<rect x="39.50" y="420.36" width="10.41" height="4.88" fill="#b2ffff"/>
<rect x="49.91" y="420.36" width="10.41" height="4.88" fill="#a3ffff"/>
<rect x="70.73" y="420.36" width="10.41" height="4.88" fill="#ff80f8"/>
<rect x="112.38" y="420.36" width="10.41" height="4.88" fill="#1affff"/>
<rect x="39.50" y="425.24" width="10.41" height="4.88" fill="#80ffff"/>
<rect x="49.91" y="425.24" width="10.41" height="4.88" fill="#4cffff"/>
<rect x="60.32" y="425.24" width="10.41" height="4.88" fill="#1affff"/>
<rect x="70.73" y="425.24" width="10.41" height="4.88" fill="#ff80f8"/>
<rect x="101.97" y="425.24" width="10.41" height="4.88" fill="#33ffff"/>
<rect x="112.38" y="425.24" width="10.41" height="4.88" fill="#66ffff"/>
<rect x="122.79" y="425.24" width="10.41" height="4.88" fill="#33ffff"/>
<rect x="39.50" y="430.12" width="10.41" height="4.88" fill="#1affff"/>
<rect x="70.73" y="430.12" width="10.41" height="4.88" fill="#ff80f8"/>
<rect x="112.38" y="430.12" width="10.41" height="4.88" fill="#4cffff"/>
<rect x="70.73" y="435.00" width="10.41" height="4.88" fill="#ff80f8"/>
<rect x="70.73" y="439.88" width="10.41" height="4.88" fill="#ff80f8"/>
<rect x="39.50" y="444.76" width="10.41" height="4.88" fill="#ffc0fc"/>
<rect x="49.91" y="444.76" width="10.41" height="4.88" fill="#ff99f9"/>
<rect x="60.32" y="444.76" width="10.41" height="4.88" fill="#ffffff"/>
<rect x="70.73" y="444.76" width="10.41" height="4.88" fill="#ff80f8"/>
<rect x="81.14" y="444.76" width="10.41" height="4.88" fill="#ff99f9"/>
<rect x="91.56" y="444.76" width="10.41" height="4.88" fill="#ffffff"/>
<rect x="112.38" y="444.76" width="10.41" height="4.88" fill="#ffb3fb"/>
<rect x="122.79" y="444.76" width="10.41" height="4.88" fill="#fff2fe"/>
<rect x="39.50" y="449.64" width="10.41" height="4.88" fill="#fff2fe"/>
<rect x="49.91" y="449.64" width="10.41" height="4.88" fill="#66ffff"/>
<rect x="60.32" y="449.64" width="10.41" height="4.88" fill="#4cffff"/>
<rect x="70.73" y="449.64" width="10.41" height="4.88" fill="#ff80f8"/>
<rect x="81.14" y="449.64" width="10.41" height="4.88" fill="#66ffff"/>
<rect x="112.38" y="449.64" width="10.41" height="4.88" fill="#ffffff"/>
<rect x="122.79" y="449.64" width="10.41" height="4.88" fill="#ffd9fd"/>
<rect x="39.50" y="454.52" width="10.41" height="4.88" fill="#ffc0fc"/>
<rect x="49.91" y="454.52" width="10.41" height="4.88" fill="#ccffff"/>
<rect x="70.73" y="454.52" width="10.41" height="4.88" fill="#ff80f8"/>
<rect x="81.14" y="454.52" width="10.41" height="4.88" fill="#66ffff"/>
<rect x="91.56" y="454.52" width="10.41" height="4.88" fill="#4cffff"/>
<rect x="112.38" y="454.52" width="10.41" height="4.88" fill="#ffc0fc"/>
<rect x="122.79" y="454.52" width="10.41" height="4.88" fill="#b2ffff"/>
</g>
<g fill="none" stroke="#787878" stroke-width="0.8">
<path d="M44.71 44.30V13.60H55.12V44.30"/>
<path d="M86.35 44.30V32.00H96.76V44.30"/>
<path d="M117.58 44.30V38.60H127.99V44.30"/>
<path d="M107.17 44.30V32.00H122.79V38.60"/>
<path d="M91.56 32.00V26.00H114.98V32.00"/>
<path d="M75.94 44.30V20.00H103.27V26.00"/>
<path d="M65.53 44.30V13.60H89.60V20.00"/>
<path d="M49.91 13.60V7.60H77.57V13.60"/>
<path d="M39.20 51.92H20.20V56.80H39.20"/>
<path d="M39.20 47.04H17.40V54.36H20.20"/>
<path d="M39.20 66.56H22.60V71.44H39.20"/>
<path d="M39.20 61.68H20.20V69.00H22.60"/>
<path d="M39.20 86.08H24.30V90.96H39.20"/>
<path d="M39.20 81.20H22.60V88.52H24.30"/>
<path d="M39.20 76.32H20.20V84.86H22.60"/>
<path d="M20.20 65.34H18.00V80.59H20.20"/>
<path d="M17.40 50.70H15.80V72.97H18.00"/>
<path d="M39.20 105.60H20.40V110.48H39.20"/>
<path d="M39.20 100.72H17.60V108.04H20.40"/>
<path d="M39.20 95.84H15.80V104.38H17.60"/>
<path d="M15.80 61.83H13.50V100.11H15.80"/>
<path d="M39.20 115.36H18.00V120.24H39.20"/>
<path d="M39.20 125.12H17.60V130.00H39.20"/>
<path d="M18.00 117.80H15.40V127.56H17.60"/>
<path d="M39.20 178.80H37.50V183.68H39.20"/>
<path d="M39.20 173.92H35.00V181.24H37.50"/>
<path d="M39.20 169.04H33.00V177.58H35.00"/>
<path d="M39.20 164.16H30.00V173.31H33.00"/>
<path d="M39.20 159.28H28.40V168.74H30.00"/>
<path d="M39.20 154.40H26.20V164.01H28.40"/>
<path d="M39.20 149.52H24.30V159.20H26.20"/>
<path d="M39.20 144.64H22.00V154.36H24.30"/>
<path d="M39.20 139.76H20.20V149.50H22.00"/>
<path d="M39.20 188.56H20.20V193.44H39.20"/>
<path d="M20.20 144.63H17.80V191.00H20.20"/>
<path d="M39.20 134.88H15.80V167.82H17.80"/>
<path d="M15.40 122.68H13.50V151.35H15.80"/>
<path d="M13.50 80.97H11.40V137.01H13.50"/>
<path d="M39.20 203.20H20.20V208.08H39.20"/>
<path d="M39.20 198.32H17.60V205.64H20.20"/>
<path d="M39.20 217.84H24.30V222.72H39.20"/>
<path d="M39.20 212.96H22.00V220.28H24.30"/>
<path d="M39.20 232.48H24.30V237.36H39.20"/>
<path d="M39.20 227.60H22.00V234.92H24.30"/>
<path d="M22.00 216.62H20.20V231.26H22.00"/>
<path d="M39.20 247.12H22.00V252.00H39.20"/>
<path d="M39.20 242.24H20.20V249.56H22.00"/>
<path d="M20.20 223.94H17.60V245.90H20.20"/>
<path d="M17.60 201.98H15.80V234.92H17.60"/>
<path d="M39.20 271.52H22.00V276.40H39.20"/>
<path d="M39.20 266.64H20.20V273.96H22.00"/>
<path d="M39.20 261.76H18.00V270.30H20.20"/>
<path d="M39.20 256.88H15.80V266.03H18.00"/>
<path d="M15.80 218.45H13.50V261.45H15.80"/>
<path d="M39.20 286.16H22.00V291.04H39.20"/>
<path d="M39.20 281.28H20.20V288.60H22.00"/>
<path d="M39.20 310.56H26.50V315.44H39.20"/>
<path d="M39.20 305.68H24.30V313.00H26.50"/>
<path d="M39.20 300.80H22.00V309.34H24.30"/>
<path d="M39.20 295.92H20.20V305.07H22.00"/>
<path d="M20.20 284.94H17.60V300.50H20.20"/>
<path d="M39.20 320.32H22.00V325.20H39.20"/>
<path d="M39.20 330.08H22.00V334.96H39.20"/>
<path d="M22.00 322.76H20.20V332.52H22.00"/>
<path d="M39.20 344.72H22.00V349.60H39.20"/>
<path d="M39.20 339.84H20.20V347.16H22.00"/>
<path d="M20.20 327.64H17.60V343.50H20.20"/>
<path d="M17.60 292.72H15.80V335.57H17.60"/>
<path d="M39.20 359.36H24.30V364.24H39.20"/>
<path d="M39.20 354.48H22.00V361.80H24.30"/>
<path d="M39.20 374.00H26.20V378.88H39.20"/>
<path d="M39.20 388.64H28.40V393.52H39.20"/>
<path d="M39.20 383.76H26.50V391.08H28.40"/>
<path d="M26.20 376.44H24.30V387.42H26.50"/>
<path d="M39.20 369.12H22.00V381.93H24.30"/>
<path d="M22.00 358.14H20.20V375.52H22.00"/>
<path d="M39.20 398.40H20.20V403.28H39.20"/>
<path d="M20.20 366.83H17.60V400.84H20.20"/>
<path d="M39.20 408.16H22.00V413.04H39.20"/>
<path d="M39.20 437.44H30.30V442.32H39.20"/>
<path d="M39.20 432.56H28.40V439.88H30.30"/>
<path d="M39.20 427.68H26.50V436.22H28.40"/>
<path d="M39.20 422.80H24.30V431.95H26.50"/>
<path d="M39.20 417.92H22.00V427.38H24.30"/>
<path d="M22.00 410.60H20.20V422.65H22.00"/>
<path d="M39.20 452.08H22.00V456.96H39.20"/>
<path d="M39.20 447.20H20.20V454.52H22.00"/>
<path d="M20.20 416.62H17.60V450.86H20.20"/>
<path d="M17.60 383.84H15.80V433.74H17.60"/>
<path d="M15.80 314.14H13.50V408.79H15.80"/>
<path d="M13.50 239.95H11.40V361.47H13.50"/>
<path d="M11.40 108.99H9.40V300.71H11.40"/>
</g>
<g font-family="Liberation Sans, Arial, sans-serif" font-size="5.3" fill="#141414" stroke="#141414" stroke-width="0.18">
<text transform="translate(136.2 48.94) rotate(0.15)">SPL5</text>
<text transform="translate(136.2 53.82) rotate(0.15)">COL5-1</text>
<text transform="translate(136.2 58.70) rotate(0.15)">RAC2</text>
<text transform="translate(136.2 63.58) rotate(0.15)">LET6</text>
<text transform="translate(136.2 68.46) rotate(0.15)">SWEET14</text>
<text transform="translate(136.2 73.34) rotate(0.15)">YAB4</text>
<text transform="translate(136.2 78.22) rotate(0.15)">PIN1A</text>
<text transform="translate(136.2 83.10) rotate(0.15)">ZHD1</text>
<text transform="translate(136.2 87.98) rotate(0.15)">Sftpc</text>
<text transform="translate(136.2 92.86) rotate(0.15)">SN1</text>
<text transform="translate(136.2 97.74) rotate(0.15)">TCP24</text>
<text transform="translate(136.2 102.62) rotate(0.15)">FER-1</text>
<text transform="translate(136.2 107.50) rotate(0.15)">GI</text>
<text transform="translate(136.2 112.38) rotate(0.15)">ROC2</text>
<text transform="translate(136.2 117.26) rotate(0.15)">NPR5</text>
<text transform="translate(136.2 122.14) rotate(0.15)">SAUR50</text>
<text transform="translate(136.2 127.02) rotate(0.15)">At3g03100</text>
<text transform="translate(136.2 131.90) rotate(0.15)">ENO1</text>
<text transform="translate(136.2 136.78) rotate(0.15)">BET11</text>
<text transform="translate(136.2 141.66) rotate(0.15)">At1g16060</text>
<text transform="translate(136.2 146.54) rotate(0.15)">ASR2</text>
<text transform="translate(136.2 151.42) rotate(0.15)">TAR2</text>
<text transform="translate(136.2 156.30) rotate(0.15)">At2g41970</text>
<text transform="translate(136.2 161.18) rotate(0.15)">PSK3</text>
<text transform="translate(136.2 166.06) rotate(0.15)">PRK6</text>
<text transform="translate(136.2 170.94) rotate(0.15)">PERK4</text>
<text transform="translate(136.2 175.82) rotate(0.15)">PPME1</text>
<text transform="translate(136.2 180.70) rotate(0.15)">GAM1-1</text>
<text transform="translate(136.2 185.58) rotate(0.15)">PRK2</text>
<text transform="translate(136.2 190.46) rotate(0.15)">GAM1-3</text>
<text transform="translate(136.2 195.34) rotate(0.15)">RAC5</text>
<text transform="translate(136.2 200.22) rotate(0.15)">U2AF35B</text>
<text transform="translate(136.2 205.10) rotate(0.15)">ARF23</text>
<text transform="translate(136.2 209.98) rotate(0.15)">ARF7</text>
<text transform="translate(136.2 214.86) rotate(0.15)">MAX2</text>
<text transform="translate(136.2 219.74) rotate(0.15)">GH3.5</text>
<text transform="translate(136.2 224.62) rotate(0.15)">GRP-2</text>
<text transform="translate(136.2 229.50) rotate(0.15)">ML2</text>
<text transform="translate(136.2 234.38) rotate(0.15)">BLH1-1</text>
<text transform="translate(136.2 239.26) rotate(0.15)">HOX19</text>
<text transform="translate(136.2 244.14) rotate(0.15)">AHL21</text>
<text transform="translate(136.2 249.02) rotate(0.15)">FLXL2</text>
<text transform="translate(136.2 253.90) rotate(0.15)">rnj</text>
<text transform="translate(136.2 258.78) rotate(0.15)">IPI1</text>
<text transform="translate(136.2 263.66) rotate(0.15)">BLH1</text>
<text transform="translate(136.2 268.54) rotate(0.15)">BLH9</text>
<text transform="translate(136.2 273.42) rotate(0.15)">ARF2</text>
<text transform="translate(136.2 278.30) rotate(0.15)">SNE</text>
<text transform="translate(136.2 283.18) rotate(0.15)">CRF3</text>
<text transform="translate(136.2 288.06) rotate(0.15)">ACO2</text>
<text transform="translate(136.2 292.94) rotate(0.15)">PIN1C</text>
<text transform="translate(136.2 297.82) rotate(0.15)">CYP707A5</text>
<text transform="translate(136.2 302.70) rotate(0.15)">WRKY35</text>
<text transform="translate(136.2 307.58) rotate(0.15)">MYB39</text>
<text transform="translate(136.2 312.46) rotate(0.15)">WRI1</text>
<text transform="translate(136.2 317.34) rotate(0.15)">WRI1-1</text>
<text transform="translate(136.2 322.22) rotate(0.15)">RR21</text>
<text transform="translate(136.2 327.10) rotate(0.15)">WRKY48</text>
<text transform="translate(136.2 331.98) rotate(0.15)">APX1</text>
<text transform="translate(136.2 336.86) rotate(0.15)">SUS4</text>
<text transform="translate(136.2 341.74) rotate(0.15)">SKP2A</text>
<text transform="translate(136.2 346.62) rotate(0.15)">PXG4</text>
<text transform="translate(136.2 351.50) rotate(0.15)">WRKY75</text>
<text transform="translate(136.2 356.38) rotate(0.15)">COL5</text>
<text transform="translate(136.2 361.26) rotate(0.15)">DIVARICATA-1</text>
<text transform="translate(136.2 366.14) rotate(0.15)">PSAH2</text>
<text transform="translate(136.2 371.02) rotate(0.15)">BEL1-1</text>
<text transform="translate(136.2 375.90) rotate(0.15)">CRY1</text>
<text transform="translate(136.2 380.78) rotate(0.15)">SMAX1</text>
<text transform="translate(136.2 385.66) rotate(0.15)">TCP20</text>
<text transform="translate(136.2 390.54) rotate(0.15)">STIC-1</text>
<text transform="translate(136.2 395.42) rotate(0.15)">TKT2</text>
<text transform="translate(136.2 400.30) rotate(0.15)">CPK28</text>
<text transform="translate(136.2 405.18) rotate(0.15)">KNAT3</text>
<text transform="translate(136.2 410.06) rotate(0.15)">EXPA16</text>
<text transform="translate(136.2 414.94) rotate(0.15)">TCP7</text>
<text transform="translate(136.2 419.82) rotate(0.15)">GAM1</text>
<text transform="translate(136.2 424.70) rotate(0.15)">BLH2</text>
<text transform="translate(136.2 429.58) rotate(0.15)">STP1</text>
<text transform="translate(136.2 434.46) rotate(0.15)">RAX2</text>
<text transform="translate(136.2 439.34) rotate(0.15)">AHL21-1</text>
<text transform="translate(136.2 444.22) rotate(0.15)">PSK</text>
<text transform="translate(136.2 449.10) rotate(0.15)">SCL3</text>
<text transform="translate(136.2 453.98) rotate(0.15)">GIO1C</text>
<text transform="translate(136.2 458.86) rotate(0.15)">NAC083</text>
</g>
<g font-family="Liberation Sans, Arial, sans-serif" font-size="7.2" font-weight="bold" fill="#0a0a0a" stroke="#0a0a0a" stroke-width="0.2" text-anchor="end">
<text transform="translate(49.01 466.50) rotate(-45)">Leaf</text>
<text transform="translate(59.42 466.50) rotate(-45)">MF</text>
<text transform="translate(69.83 466.50) rotate(-45)">FD4</text>
<text transform="translate(80.24 466.50) rotate(-45)">Root</text>
<text transform="translate(90.65 466.50) rotate(-45)">FD1</text>
<text transform="translate(101.06 466.50) rotate(-45)">FD2</text>
<text transform="translate(111.47 466.50) rotate(-45)">FD3</text>
<text transform="translate(121.88 466.50) rotate(-45)">FD5</text>
<text transform="translate(132.29 466.50) rotate(-45)">Capsule</text>
</g>
<defs><linearGradient id="cb" x1="0" y1="0" x2="0" y2="1"><stop offset="0" stop-color="#f77cf0"/><stop offset="0.5" stop-color="#ffffff"/><stop offset="1" stop-color="#10e8e8"/></linearGradient></defs>
<rect x="171.8" y="45.6" width="10.80" height="80.60" fill="url(#cb)"/>
<path d="M182.9 45.6V126.2" stroke="#555" stroke-width="0.8" fill="none"/>
<g font-family="Liberation Sans, Arial, sans-serif" font-size="6.1" fill="#222">
<path d="M182.9 45.60h1.8" stroke="#555" stroke-width="0.7"/>
<text x="185.6" y="47.70">1.00</text>
<path d="M182.9 61.72h1.8" stroke="#555" stroke-width="0.7"/>
<text x="185.6" y="63.82">0.80</text>
<path d="M182.9 77.84h1.8" stroke="#555" stroke-width="0.7"/>
<text x="185.6" y="79.94">0.60</text>
<path d="M182.9 93.96h1.8" stroke="#555" stroke-width="0.7"/>
<text x="185.6" y="96.06">0.40</text>
<path d="M182.9 110.08h1.8" stroke="#555" stroke-width="0.7"/>
<text x="185.6" y="112.18">0.20</text>
<path d="M182.9 126.20h1.8" stroke="#555" stroke-width="0.7"/>
<text x="185.6" y="128.30">0.00</text>
</g>
<g font-family="Liberation Sans, Arial, sans-serif" font-size="16.5" font-weight="bold" fill="#000">
<text x="4.6" y="13.4">a</text><text x="221.3" y="15.8">b</text></g>
<path fill="none" stroke="#ffaa5a" stroke-width="1.1" d="M351.0 46.5A22.5 22.5 0 0 1 343.0 16.8M351.0 46.5A26.0 26.0 0 0 1 364.1 12.8M351.0 46.5A28.3 28.3 0 0 1 383.4 23.3M351.0 46.5L367.1 51.0M351.0 46.5A36.1 36.1 0 0 1 351.7 98.5M367.1 51.0A28.4 28.4 0 0 1 344.9 17.8M367.1 51.0A25.8 25.8 0 0 1 365.5 15.2M367.1 51.0A22.0 22.0 0 0 1 383.2 25.7M367.1 51.0A35.6 35.6 0 0 1 352.7 100.1M325.4 160.6A39.6 39.6 0 0 1 340.8 105.1M325.4 160.6A36.6 36.6 0 0 1 310.3 109.9M325.4 160.6A36.7 36.7 0 0 1 290.6 120.6M325.4 160.6A35.7 35.7 0 0 1 278.6 139.3M325.4 160.6A20.9 20.9 0 0 1 319.1 133.2M325.4 160.6A15.9 15.9 0 0 1 309.7 147.9M325.4 160.6A20.4 20.4 0 0 1 298.1 161.9M325.4 160.6A10.4 10.4 0 0 1 317.4 168.7M325.4 160.6A21.4 21.4 0 0 1 334.6 133.2M347.1 175.1A16.7 16.7 0 0 1 328.2 168.5M347.1 175.1A46.5 46.5 0 0 1 342.0 107.0M347.1 175.1A28.6 28.6 0 0 1 336.9 136.2M347.1 175.1A35.0 35.0 0 0 1 352.6 125.1M347.1 175.1A21.9 21.9 0 0 1 354.1 146.1M347.1 175.1A34.3 34.3 0 0 1 371.6 132.4M347.1 175.1A36.1 36.1 0 0 1 392.0 148.7M347.1 175.1A23.9 23.9 0 0 1 378.3 164.6M347.1 175.1A23.6 23.6 0 0 1 314.8 173.4M347.1 175.1A33.8 33.8 0 0 1 321.0 134.2M347.1 175.1A36.1 36.1 0 0 1 296.5 162.9M347.1 175.1A22.4 22.4 0 0 1 324.1 195.2M347.1 175.1A16.8 16.8 0 0 1 346.1 196.7M347.1 175.1A40.7 40.7 0 0 1 406.2 171.2M347.1 175.1A21.5 21.5 0 0 1 360.0 201.2M347.1 175.1A26.8 26.8 0 0 1 384.3 179.9M347.1 175.1A32.3 32.3 0 0 1 310.0 147.9M423.0 132.6A28.6 28.6 0 0 1 443.6 97.9M423.0 132.6A28.9 28.9 0 0 1 416.2 172.8M281.4 188.4A31.3 31.3 0 0 1 241.4 168.9M281.4 188.4A23.5 23.5 0 0 1 313.7 188.9M281.4 188.4A43.0 43.0 0 0 1 340.2 170.4M266.0 203.4A21.2 21.2 0 0 1 292.0 215.2M266.0 203.4A32.0 32.0 0 0 1 311.6 204.3M367.9 191.6A17.0 17.0 0 0 1 349.2 183.2M367.9 191.6A18.1 18.1 0 0 1 377.5 169.8M367.9 191.6A13.3 13.3 0 0 1 381.6 183.2M367.9 191.6A35.4 35.4 0 0 1 418.8 189.8M367.9 191.6A18.2 18.2 0 0 1 346.9 203.0M367.9 191.6A12.0 12.0 0 0 1 363.4 204.9M367.9 191.6A30.9 30.9 0 0 1 410.4 202.4M367.9 191.6A19.4 19.4 0 0 1 382.7 210.9M367.9 191.6A26.7 26.7 0 0 1 356.5 225.7M367.9 191.6A28.4 28.4 0 0 1 388.3 226.0M367.9 191.6A29.0 29.0 0 0 1 378.0 231.3M380.7 219.0A22.0 22.0 0 0 1 382.4 189.1M380.7 219.0A33.6 33.6 0 0 1 404.2 177.1M380.7 219.0A21.9 21.9 0 0 1 407.2 205.6M380.7 219.0A9.0 9.0 0 0 1 386.9 225.6M380.7 219.0A12.0 12.0 0 0 1 379.5 232.9M380.7 219.0A18.5 18.5 0 0 1 393.6 239.7M380.7 219.0A16.8 16.8 0 0 1 359.8 213.1M380.7 219.0A19.4 19.4 0 0 1 365.9 199.7M380.7 219.0A31.3 31.3 0 0 1 416.8 193.0M380.7 219.0A32.2 32.2 0 0 1 411.2 253.3M380.7 219.0A21.4 21.4 0 0 1 356.4 231.9M380.7 219.0A31.0 31.0 0 0 1 389.3 262.2M380.7 219.0A29.7 29.7 0 0 1 373.6 260.5M380.7 219.0A40.5 40.5 0 0 1 395.9 275.9M348.7 228.6A18.7 18.7 0 0 1 338.1 206.3M348.7 228.6A14.8 14.8 0 0 1 351.7 210.3M348.7 228.6A24.6 24.6 0 0 1 317.3 215.6M348.7 228.6A29.8 29.8 0 0 1 317.3 200.4M348.7 228.6A14.0 14.0 0 0 1 331.6 230.8M348.7 228.6A35.6 35.6 0 0 1 297.4 226.7M348.7 228.6A34.3 34.3 0 0 1 341.4 181.3M348.7 228.6A11.5 11.5 0 0 1 344.3 239.2M348.7 228.6A17.0 17.0 0 0 1 370.6 231.0M348.7 228.6A21.5 21.5 0 0 1 353.8 257.3M348.7 228.6A23.2 23.2 0 0 1 320.3 242.7M348.7 228.6A24.0 24.0 0 0 1 381.7 227.1M348.7 228.6A26.7 26.7 0 0 1 360.1 194.5M348.7 228.6A46.1 46.1 0 0 1 321.6 168.0M336.3 241.5A14.1 14.1 0 0 1 319.2 244.3M336.3 241.5A11.4 11.4 0 0 1 326.6 232.7M336.3 241.5A24.5 24.5 0 0 1 314.3 215.7M336.3 241.5A15.8 15.8 0 0 1 350.4 255.8M336.3 241.5A20.7 20.7 0 0 1 338.6 269.3M336.3 241.5A22.6 22.6 0 0 1 312.1 258.4M336.3 241.5A28.2 28.2 0 0 1 356.1 276.0M336.3 241.5A24.7 24.7 0 0 1 366.6 257.3M336.3 241.5A30.8 30.8 0 0 1 310.6 276.9M336.3 241.5A24.4 24.4 0 0 1 368.9 232.7M435.1 229.5A31.6 31.6 0 0 1 437.5 184.5M435.1 229.5A39.8 39.8 0 0 1 455.5 175.4M435.1 229.5A43.4 43.4 0 0 1 475.9 180.9M435.1 229.5A31.3 31.3 0 0 1 463.1 195.0M435.1 229.5A21.5 21.5 0 0 1 444.9 202.1M435.1 229.5A41.4 41.4 0 0 1 486.5 197.8M435.1 229.5A26.7 26.7 0 0 1 467.6 211.0M435.1 229.5A43.2 43.2 0 0 1 496.5 214.7M435.1 229.5A33.3 33.3 0 0 1 482.4 223.5M435.1 229.5A22.4 22.4 0 0 1 465.7 229.0M435.1 229.5A40.7 40.7 0 0 1 493.6 239.5M435.1 229.5A22.7 22.7 0 0 1 460.3 247.5M435.1 229.5A34.9 34.9 0 0 1 479.8 252.4M435.1 229.5A23.6 23.6 0 0 1 420.3 200.6M435.1 229.5A19.6 19.6 0 0 1 413.6 214.7M435.1 229.5A31.5 31.5 0 0 1 390.8 236.4M435.1 229.5A29.9 29.9 0 0 1 397.3 248.5M435.1 229.5A25.1 25.1 0 0 1 416.5 259.0M435.1 229.5A35.4 35.4 0 0 1 418.3 277.6M435.1 229.5A39.3 39.3 0 0 1 379.0 240.7M435.1 229.5A31.6 31.6 0 0 1 449.6 270.7M435.1 229.5A43.0 43.0 0 0 1 398.5 280.7M435.1 229.5A40.1 40.1 0 0 1 391.6 268.3M435.1 229.5A50.2 50.2 0 0 1 382.9 282.2M435.1 229.5A35.5 35.5 0 0 1 385.4 225.9M435.1 229.5A41.5 41.5 0 0 1 387.7 191.9M435.1 229.5A49.4 49.4 0 0 1 369.9 199.7M435.1 229.5A43.3 43.3 0 0 1 432.7 292.8M247.4 241.4A25.2 25.2 0 0 1 220.5 219.1M247.4 241.4A34.5 34.5 0 0 1 199.6 228.2M247.4 241.4A23.7 23.7 0 0 1 215.1 245.0M247.4 241.4A33.8 33.8 0 0 1 202.7 260.1M247.4 241.4A32.2 32.2 0 0 1 287.6 219.1M247.4 241.4A65.4 65.4 0 0 1 342.3 223.2M304.1 256.0A12.2 12.2 0 0 1 308.4 242.3M304.1 256.0A30.7 30.7 0 0 1 310.0 212.7M304.1 256.0A40.7 40.7 0 0 1 312.2 197.3M304.1 256.0A23.1 23.1 0 0 1 290.7 227.3M304.1 256.0A13.6 13.6 0 0 1 308.0 272.1M304.1 256.0A20.1 20.1 0 0 1 286.9 276.7M304.1 256.0A22.2 22.2 0 0 1 332.1 267.5M304.1 256.0A29.4 29.4 0 0 1 345.7 257.1M304.1 256.0A24.0 24.0 0 0 1 320.6 227.3M304.1 256.0A31.0 31.0 0 0 1 322.1 296.3M445.2 277.8A31.5 31.5 0 0 1 489.1 287.1M445.2 277.8A16.5 16.5 0 0 1 433.9 295.8M445.2 277.8A21.2 21.2 0 0 1 417.2 283.9M530.6 302.4A25.5 25.5 0 0 1 495.4 298.4M272.0 291.7A29.9 29.9 0 0 1 229.7 288.9M272.0 291.7A34.5 34.5 0 0 1 225.8 309.8M272.0 291.7A11.1 11.1 0 0 1 274.6 279.5M272.0 291.7A22.6 22.6 0 0 1 298.0 275.1M272.0 291.7A12.0 12.0 0 0 1 270.1 305.5M272.0 291.7A12.9 12.9 0 0 1 284.2 301.0M272.0 291.7A41.3 41.3 0 0 1 328.3 270.4M272.0 291.7A35.8 35.8 0 0 1 323.4 288.0M272.0 291.7A30.9 30.9 0 0 1 315.6 296.5M272.0 291.7A42.8 42.8 0 0 1 308.0 240.4M298.4 314.6A22.0 22.0 0 0 1 268.4 313.9M298.4 314.6A10.1 10.1 0 0 1 287.7 313.1M298.4 314.6A29.3 29.3 0 0 1 259.0 327.5M298.4 314.6A15.3 15.3 0 0 1 285.4 328.8M298.4 314.6A41.0 41.0 0 0 1 244.9 341.1M298.4 314.6A30.3 30.3 0 0 1 267.4 344.4M298.4 314.6A23.5 23.5 0 0 1 286.8 344.7M298.4 314.6A25.0 25.0 0 0 1 300.8 349.2M298.4 314.6A36.1 36.1 0 0 1 280.1 363.4M298.4 314.6A37.8 37.8 0 0 1 299.7 369.2M298.4 314.6A26.9 26.9 0 0 1 278.3 282.7M298.4 314.6A24.2 24.2 0 0 1 299.0 281.2M298.4 314.6A15.5 15.5 0 0 1 312.7 301.1M298.4 314.6A34.7 34.7 0 0 1 327.4 274.0M298.4 314.6A23.5 23.5 0 0 1 321.4 291.9M320.8 315.0A8.4 8.4 0 0 1 316.8 308.0M320.8 315.0A15.0 15.0 0 0 1 322.4 296.3M320.8 315.0A16.7 16.7 0 0 1 334.9 298.8M320.8 315.0A13.1 13.1 0 0 1 327.1 329.4M320.8 315.0A21.8 21.8 0 0 1 337.4 339.5M320.8 315.0A28.3 28.3 0 0 1 318.4 354.8M320.8 315.0A31.5 31.5 0 0 1 337.1 356.8M320.8 315.0A39.8 39.8 0 0 1 322.9 372.8M320.8 315.0A29.4 29.4 0 0 1 302.3 352.2M320.8 315.0A27.8 27.8 0 0 1 328.2 276.7M320.8 315.0A26.5 26.5 0 0 1 301.8 283.3M320.8 315.0A32.8 32.8 0 0 1 287.0 347.4M320.8 315.0A41.0 41.0 0 0 1 300.9 371.3M320.8 315.0A29.9 29.9 0 0 1 347.2 282.0M320.8 315.0A38.5 38.5 0 0 1 343.4 263.9M320.8 315.0A35.7 35.7 0 0 1 280.4 283.1M359.4 308.6A13.0 13.0 0 0 1 344.2 304.9M359.4 308.6A30.4 30.4 0 0 1 346.1 267.6M359.4 308.6A17.4 17.4 0 0 1 350.6 287.7M359.4 308.6A9.3 9.3 0 0 1 367.5 303.7M359.4 308.6A22.7 22.7 0 0 1 330.0 298.8M359.4 308.6A29.3 29.3 0 0 1 362.6 267.2M359.4 308.6A23.3 23.3 0 0 1 377.8 334.8M359.4 308.6A27.2 27.2 0 0 1 364.2 346.4M359.4 308.6A20.5 20.5 0 0 1 370.3 283.2M359.4 308.6A31.3 31.3 0 0 1 378.9 268.6M359.4 308.6A28.3 28.3 0 0 1 341.8 344.3M359.4 308.6A27.7 27.7 0 0 1 333.0 280.1M359.4 308.6A27.4 27.4 0 0 1 385.7 280.6M359.4 308.6A47.2 47.2 0 0 1 368.6 239.8M359.4 308.6A45.5 45.5 0 0 1 332.5 248.9M389.1 314.7A9.3 9.3 0 0 1 388.8 305.2M389.1 314.7A11.4 11.4 0 0 1 376.4 311.8M389.1 314.7A27.2 27.2 0 0 1 421.4 294.5M389.1 314.7A37.4 37.4 0 0 1 441.2 300.0M389.1 314.7A26.0 26.0 0 0 1 425.1 311.5M389.1 314.7A42.6 42.6 0 0 1 451.4 316.0M389.1 314.7A22.4 22.4 0 0 1 417.0 327.1M389.1 314.7A33.6 33.6 0 0 1 435.3 328.3M389.1 314.7A45.4 45.4 0 0 1 452.2 336.2M389.1 314.7A18.8 18.8 0 0 1 382.0 338.6M389.1 314.7A22.7 22.7 0 0 1 405.9 340.8M389.1 314.7A33.8 33.8 0 0 1 426.6 345.3M389.1 314.7A45.2 45.2 0 0 1 442.8 353.5M389.1 314.7A31.2 31.2 0 0 1 382.1 358.6M389.1 314.7A32.5 32.5 0 0 1 397.3 360.4M389.1 314.7A34.8 34.8 0 0 1 414.0 358.1M389.1 314.7A45.1 45.1 0 0 1 427.2 368.8M389.1 314.7A43.0 43.0 0 0 1 402.5 376.1M389.1 314.7A29.9 29.9 0 0 1 366.1 350.3M389.1 314.7A21.6 21.6 0 0 1 387.3 285.4M389.1 314.7A30.5 30.5 0 0 1 381.0 272.1M389.1 314.7A22.8 22.8 0 0 1 374.0 287.5M389.1 314.7A35.5 35.5 0 0 1 365.3 269.5M389.1 314.7A26.8 26.8 0 0 1 405.9 281.2M389.1 314.7A41.5 41.5 0 0 1 368.2 371.4M389.1 314.7A30.9 30.9 0 0 1 353.9 288.5M389.1 314.7A44.2 44.2 0 0 1 386.5 250.0M389.1 314.7A69.9 69.9 0 0 1 407.4 211.4M389.1 314.7A37.7 37.7 0 0 1 404.1 262.2M389.1 314.7A53.0 53.0 0 0 1 381.4 236.5M389.1 314.7A61.6 61.6 0 0 1 375.1 225.2M389.1 314.7A80.0 80.0 0 0 1 362.7 198.1M331.0 417.4A27.2 27.2 0 0 1 315.1 382.8M331.0 417.4A39.4 39.4 0 0 1 309.9 364.1M331.0 417.4A34.5 34.5 0 0 1 355.7 374.5M331.0 417.4A29.7 29.7 0 0 1 293.5 436.3M331.0 417.4A24.7 24.7 0 0 1 320.1 449.8M331.0 417.4A35.2 35.2 0 0 1 300.0 457.4M331.0 417.4A35.6 35.6 0 0 1 326.4 468.4M331.0 417.4A31.7 31.7 0 0 1 345.5 460.2M331.0 417.4A26.6 26.6 0 0 1 357.2 443.8M331.0 417.4A35.3 35.3 0 0 1 329.0 366.6M391.7 416.4A33.4 33.4 0 0 1 360.9 379.8M391.7 416.4A36.3 36.3 0 0 1 373.2 367.4M391.7 416.4A30.2 30.2 0 0 1 428.7 438.0M391.7 416.4A31.3 31.3 0 0 1 415.3 454.2M391.7 416.4A29.6 29.6 0 0 1 394.6 458.2"/>
<path fill="#ffaa5a" stroke="none" d="M344.8 14.0L343.6 18.2L343.0 16.8L341.4 16.8ZM367.3 11.6L363.8 14.3L364.1 12.8L362.9 11.9ZM386.7 24.0L382.3 24.4L383.3 23.3L382.8 21.8ZM349.2 100.7L351.4 97.0L351.7 98.5L353.2 98.9ZM345.7 14.5L345.9 18.9L344.9 17.8L343.4 18.2ZM367.8 12.8L365.8 16.7L365.4 15.2L363.9 14.8ZM386.5 25.1L382.6 27.1L383.2 25.7L382.1 24.6ZM349.6 101.6L352.9 98.6L352.7 100.1L354.0 101.0ZM343.8 103.7L340.6 106.7L340.7 105.2L339.5 104.3ZM312.1 107.1L311.0 111.3L310.3 109.9L308.8 109.9ZM291.0 117.2L291.7 121.6L290.5 120.6L289.1 121.2ZM277.6 136.0L280.1 139.7L278.6 139.3L277.6 140.4ZM321.0 130.4L319.7 134.6L319.1 133.2L317.6 133.1ZM309.4 144.5L311.0 148.5L309.7 147.9L308.4 148.8ZM295.6 159.5L299.6 161.5L298.1 161.9L297.7 163.4ZM314.0 168.9L318.1 167.4L317.4 168.7L318.3 170.0ZM337.7 131.8L334.4 134.7L334.6 133.2L333.4 132.4ZM326.6 165.5L329.7 168.6L328.2 168.5L327.4 169.8ZM344.4 104.6L342.3 108.5L342.0 107.0L340.5 106.7ZM338.7 133.4L337.5 137.6L336.8 136.2L335.3 136.2ZM355.3 123.1L352.6 126.6L352.5 125.1L351.1 124.5ZM357.1 144.5L354.1 147.7L354.1 146.1L352.8 145.4ZM374.9 131.7L371.1 133.8L371.6 132.4L370.5 131.3ZM395.2 149.8L390.8 149.7L391.9 148.7L391.6 147.2ZM381.2 166.2L376.9 165.3L378.2 164.6L378.2 163.1ZM312.6 170.7L316.3 173.2L314.8 173.4L314.3 174.8ZM322.0 131.0L322.0 135.4L321.0 134.2L319.5 134.7ZM295.0 159.9L298.1 163.0L296.6 162.9L295.8 164.2ZM320.7 194.8L325.0 193.9L324.1 195.2L324.7 196.5ZM343.6 198.9L345.9 195.2L346.1 196.7L347.6 197.1ZM408.6 173.6L404.7 171.6L406.2 171.2L406.6 169.7ZM358.8 204.4L359.1 200.0L360.0 201.2L361.5 200.9ZM386.3 182.7L382.8 179.9L384.3 179.9L384.9 178.5ZM309.7 144.5L311.3 148.6L310.0 147.9L308.8 148.8ZM446.9 97.3L443.0 99.3L443.6 97.9L442.5 96.8ZM413.4 174.6L416.2 171.3L416.3 172.8L417.6 173.5ZM240.5 165.7L242.9 169.4L241.4 168.9L240.4 170.1ZM316.0 191.4L312.2 189.1L313.7 188.9L314.2 187.4ZM343.1 172.1L338.8 171.1L340.2 170.4L340.1 168.9ZM293.1 218.4L290.5 214.9L292.0 215.2L293.0 214.0ZM313.7 206.8L310.0 204.5L311.5 204.3L312.0 202.8ZM347.9 180.0L350.7 183.4L349.2 183.2L348.3 184.4ZM380.6 168.6L377.1 171.3L377.4 169.8L376.3 168.8ZM384.9 184.0L380.6 184.3L381.6 183.2L381.1 181.8ZM421.1 192.3L417.3 190.1L418.8 189.8L419.2 188.3ZM343.6 202.0L348.0 202.0L346.9 203.0L347.2 204.5ZM360.3 206.5L363.5 203.4L363.4 204.9L364.7 205.7ZM412.0 205.4L408.9 202.3L410.4 202.4L411.2 201.1ZM382.3 214.3L381.5 209.9L382.7 210.9L384.1 210.2ZM353.5 227.2L356.7 224.2L356.6 225.7L357.8 226.5ZM387.3 229.2L387.3 224.8L388.3 225.9L389.8 225.6ZM376.1 234.1L377.4 229.9L378.0 231.3L379.5 231.4ZM385.0 187.0L382.6 190.7L382.4 189.2L381.0 188.7ZM407.5 176.4L403.7 178.5L404.2 177.1L403.1 176.0ZM410.4 206.8L406.0 206.6L407.2 205.6L406.9 204.1ZM387.0 229.1L385.6 224.9L386.9 225.7L388.2 224.8ZM376.9 235.2L379.2 231.4L379.5 232.9L380.9 233.4ZM392.7 243.0L392.5 238.6L393.6 239.7L395.0 239.2ZM358.2 210.1L361.3 213.2L359.8 213.1L359.0 214.4ZM366.3 196.3L367.1 200.7L365.9 199.7L364.5 200.4ZM420.1 193.7L415.7 194.1L416.7 193.0L416.2 191.5ZM410.8 256.7L410.0 252.3L411.2 253.3L412.6 252.7ZM353.1 230.9L357.5 230.9L356.4 231.9L356.8 233.4ZM387.3 264.9L388.8 260.8L389.4 262.2L390.9 262.4ZM370.7 262.3L373.6 258.9L373.6 260.5L374.9 261.1ZM394.0 278.7L395.3 274.5L395.9 275.9L397.5 275.9ZM339.3 203.2L339.0 207.5L338.1 206.3L336.6 206.6ZM354.4 208.3L351.8 211.8L351.7 210.3L350.3 209.7ZM316.2 212.4L318.8 215.9L317.3 215.6L316.4 216.8ZM317.4 197.1L318.6 201.3L317.3 200.5L316.0 201.3ZM329.0 228.7L333.1 230.2L331.6 230.8L331.5 232.3ZM295.3 224.1L299.0 226.5L297.5 226.7L297.0 228.2ZM343.5 178.6L342.0 182.7L341.4 181.3L339.9 181.1ZM341.3 240.9L344.3 237.7L344.2 239.2L345.6 240.0ZM372.7 233.7L369.1 231.2L370.6 231.0L371.2 229.6ZM351.8 260.0L353.3 255.9L353.9 257.3L355.4 257.5ZM317.1 241.5L321.5 241.8L320.3 242.7L320.6 244.2ZM384.1 229.5L380.2 227.5L381.7 227.1L382.1 225.6ZM363.1 193.0L359.9 196.0L360.0 194.5L358.8 193.7ZM323.0 165.0L322.4 169.3L321.6 168.1L320.1 168.3ZM316.4 242.3L320.6 243.7L319.2 244.3L319.1 245.8ZM326.4 229.3L328.0 233.4L326.6 232.7L325.4 233.6ZM314.7 212.4L315.5 216.7L314.3 215.8L312.9 216.4ZM350.3 259.2L349.1 255.0L350.4 255.8L351.7 255.0ZM336.3 271.8L338.2 267.8L338.6 269.2L340.1 269.5ZM308.8 257.8L313.1 257.2L312.1 258.4L312.7 259.8ZM355.0 279.2L355.1 274.8L356.1 276.0L357.6 275.6ZM367.5 260.5L365.2 256.8L366.6 257.2L367.7 256.1ZM307.2 277.2L311.3 275.5L310.6 276.9L311.5 278.1ZM371.7 234.5L367.5 233.3L368.9 232.7L368.9 231.1ZM440.1 182.4L437.6 186.0L437.4 184.5L436.0 184.0ZM458.6 174.2L455.1 176.9L455.4 175.4L454.2 174.5ZM479.3 180.8L475.1 182.2L475.9 180.9L475.1 179.6ZM466.5 194.8L462.4 196.3L463.1 195.0L462.3 193.7ZM448.0 200.8L444.7 203.6L444.9 202.1L443.6 201.2ZM489.7 198.8L485.3 198.8L486.5 197.8L486.1 196.3ZM470.8 212.1L466.4 212.0L467.6 211.0L467.2 209.5ZM499.2 216.6L495.1 215.2L496.5 214.6L496.6 213.1ZM484.9 225.7L480.9 223.9L482.3 223.5L482.6 222.0ZM468.0 231.5L464.2 229.3L465.7 229.0L466.1 227.5ZM495.3 242.4L492.0 239.5L493.6 239.5L494.3 238.2ZM460.8 250.9L459.0 246.9L460.3 247.5L461.5 246.6ZM480.6 255.6L478.3 251.9L479.8 252.3L480.9 251.2ZM421.5 197.4L421.3 201.8L420.3 200.6L418.8 200.9ZM413.1 211.4L415.0 215.4L413.6 214.8L412.4 215.7ZM388.2 234.2L392.2 235.9L390.8 236.4L390.6 237.9ZM394.1 247.2L398.5 247.6L397.3 248.5L397.6 250.0ZM413.2 259.6L417.1 257.5L416.5 259.0L417.6 260.1ZM415.2 278.9L418.6 276.1L418.3 277.6L419.5 278.5ZM376.4 238.6L380.5 240.1L379.1 240.7L378.9 242.2ZM448.1 273.7L448.8 269.4L449.6 270.7L451.1 270.6ZM395.2 281.0L399.3 279.4L398.6 280.7L399.5 282.0ZM388.2 267.8L392.6 267.1L391.6 268.3L392.2 269.7ZM379.6 281.9L383.9 280.9L383.0 282.2L383.7 283.5ZM383.3 223.2L387.0 225.7L385.5 225.9L384.9 227.3ZM387.6 188.5L389.1 192.6L387.7 191.9L386.5 192.7ZM369.0 196.5L371.4 200.1L370.0 199.7L368.9 200.9ZM430.1 294.9L432.5 291.2L432.7 292.7L434.2 293.2ZM220.3 215.7L221.8 219.8L220.5 219.1L219.2 219.9ZM198.1 225.2L201.1 228.4L199.6 228.3L198.8 229.5ZM212.5 242.7L216.5 244.5L215.1 245.0L214.8 246.5ZM199.6 258.6L204.0 259.3L202.7 260.1L202.9 261.6ZM290.8 220.2L286.4 220.0L287.6 219.0L287.3 217.6ZM345.0 225.3L340.9 223.7L342.3 223.2L342.5 221.6ZM311.4 240.7L308.3 243.9L308.4 242.3L307.1 241.6ZM312.8 210.8L310.0 214.3L309.9 212.7L308.5 212.1ZM315.0 195.5L312.2 198.9L312.1 197.3L310.7 196.7ZM292.0 224.2L291.6 228.5L290.7 227.3L289.2 227.6ZM306.3 275.0L307.3 270.7L308.0 272.1L309.6 272.1ZM283.5 276.9L287.6 275.4L286.9 276.7L287.8 278.0ZM333.3 270.7L330.6 267.2L332.1 267.5L333.0 266.3ZM347.9 259.6L344.2 257.3L345.7 257.0L346.1 255.6ZM323.9 226.6L320.1 228.7L320.6 227.3L319.5 226.2ZM320.7 299.3L321.2 295.0L322.1 296.2L323.6 296.0ZM490.8 290.1L487.6 287.0L489.1 287.1L489.8 285.8ZM430.6 296.6L434.4 294.4L433.9 295.8L435.0 296.9ZM414.4 281.9L418.6 283.3L417.2 283.9L417.1 285.4ZM493.5 295.6L497.0 298.3L495.5 298.4L494.9 299.8ZM227.6 286.2L231.2 288.8L229.7 288.9L229.2 290.4ZM222.8 308.3L227.1 309.0L225.8 309.8L225.9 311.4ZM277.4 277.5L274.7 281.0L274.6 279.5L273.3 278.9ZM301.2 276.0L296.9 276.2L298.0 275.1L297.5 273.7ZM267.4 307.6L269.9 304.0L270.0 305.5L271.5 306.0ZM284.7 304.4L282.8 300.4L284.2 301.1L285.4 300.1ZM331.3 272.0L327.0 271.2L328.3 270.4L328.2 268.9ZM325.8 290.3L321.9 288.3L323.4 287.9L323.7 286.5ZM317.6 299.3L314.1 296.6L315.6 296.5L316.2 295.1ZM311.3 240.1L307.3 241.8L307.9 240.4L307.0 239.2ZM266.2 311.4L269.9 313.7L268.4 313.9L268.0 315.4ZM285.5 310.4L289.2 312.8L287.7 313.0L287.2 314.5ZM256.1 325.8L260.4 326.8L259.0 327.5L259.1 329.1ZM282.1 328.9L286.2 327.5L285.5 328.8L286.3 330.1ZM241.8 339.8L246.1 340.2L244.9 341.1L245.1 342.6ZM264.0 344.2L268.3 343.2L267.4 344.4L268.1 345.8ZM283.6 345.9L287.1 343.1L286.8 344.6L288.0 345.6ZM298.4 351.7L300.4 347.7L300.8 349.2L302.3 349.5ZM277.0 364.6L280.5 361.9L280.2 363.4L281.4 364.3ZM297.3 371.5L299.5 367.7L299.8 369.2L301.2 369.6ZM279.2 279.5L279.3 283.9L278.3 282.7L276.8 283.2ZM301.5 278.9L299.2 282.7L299.0 281.2L297.5 280.7ZM316.1 301.2L311.8 302.4L312.7 301.1L311.9 299.8ZM330.8 273.7L326.7 275.4L327.4 274.1L326.5 272.8ZM324.8 292.1L320.5 293.2L321.4 291.9L320.6 290.6ZM317.4 304.6L317.9 309.0L316.8 307.9L315.4 308.5ZM325.0 294.1L322.6 297.8L322.4 296.3L321.0 295.8ZM338.3 298.7L334.2 300.2L334.9 298.8L334.1 297.6ZM325.9 332.6L326.2 328.2L327.1 329.4L328.6 329.1ZM336.6 342.8L336.3 338.4L337.4 339.5L338.9 339.0ZM315.7 356.9L318.2 353.2L318.4 354.8L319.8 355.3ZM335.6 359.8L336.3 355.5L337.1 356.8L338.7 356.7ZM320.4 375.1L322.6 371.3L322.9 372.8L324.4 373.2ZM299.1 353.1L302.8 350.8L302.3 352.2L303.5 353.3ZM331.1 275.0L328.1 278.3L328.2 276.7L326.8 276.0ZM302.8 280.0L302.8 284.4L301.8 283.3L300.4 283.7ZM283.6 347.2L287.9 346.2L287.0 347.4L287.7 348.8ZM297.8 372.5L301.2 369.8L300.9 371.3L302.2 372.2ZM350.6 281.8L346.5 283.3L347.2 282.0L346.3 280.7ZM346.6 262.9L342.9 265.4L343.3 263.9L342.2 262.9ZM280.3 279.7L281.8 283.8L280.4 283.1L279.2 284.0ZM342.3 302.1L345.7 304.9L344.1 304.9L343.5 306.3ZM347.8 264.7L346.8 269.0L346.0 267.6L344.5 267.7ZM352.0 284.6L351.5 288.9L350.6 287.7L349.1 287.9ZM371.0 304.4L366.6 304.9L367.6 303.8L367.1 302.3ZM328.7 295.7L331.6 299.0L330.0 298.8L329.2 300.0ZM365.2 265.2L362.7 268.8L362.5 267.3L361.1 266.7ZM377.1 338.1L376.7 333.7L377.8 334.8L379.2 334.3ZM362.0 348.9L363.7 344.9L364.2 346.3L365.7 346.6ZM373.5 282.1L369.9 284.7L370.3 283.2L369.1 282.3ZM382.1 267.7L378.4 270.1L378.9 268.6L377.7 267.6ZM338.6 345.2L342.3 342.8L341.8 344.3L343.0 345.3ZM333.3 276.7L334.2 281.0L333.0 280.1L331.6 280.8ZM389.0 280.7L384.8 281.9L385.6 280.6L384.9 279.3ZM371.4 238.0L368.6 241.4L368.5 239.9L367.2 239.2ZM333.9 245.9L333.4 250.2L332.5 249.0L331.0 249.2ZM391.0 302.5L389.3 306.6L388.8 305.2L387.3 304.9ZM374.5 309.0L377.9 311.7L376.4 311.8L375.8 313.2ZM424.6 295.4L420.2 295.5L421.4 294.5L421.0 293.0ZM444.1 301.9L439.8 300.7L441.2 300.0L441.3 298.5ZM427.6 313.8L423.6 311.9L425.1 311.5L425.4 310.0ZM453.5 318.6L449.8 316.2L451.3 316.0L451.8 314.5ZM418.1 330.3L415.5 326.7L417.0 327.0L418.0 325.9ZM436.8 331.4L433.8 328.1L435.3 328.3L436.2 327.0ZM453.5 339.3L450.7 335.9L452.2 336.2L453.1 335.0ZM379.0 340.1L382.1 337.0L382.0 338.6L383.3 339.4ZM405.1 344.0L404.9 339.6L405.9 340.7L407.4 340.3ZM426.7 348.7L425.2 344.6L426.6 345.3L427.8 344.5ZM443.1 356.9L441.4 352.8L442.8 353.5L444.0 352.6ZM379.3 360.4L382.1 357.1L382.1 358.6L383.5 359.3ZM395.2 363.1L396.8 359.0L397.3 360.4L398.8 360.6ZM412.9 361.3L413.0 356.9L414.0 358.1L415.5 357.7ZM426.4 372.1L426.1 367.7L427.2 368.8L428.7 368.3ZM400.4 378.8L401.9 374.6L402.5 376.1L404.0 376.2ZM362.8 350.9L366.7 348.9L366.2 350.3L367.1 351.5ZM389.6 283.0L387.7 286.9L387.3 285.5L385.8 285.1ZM383.1 269.4L381.5 273.6L381.0 272.1L379.5 272.0ZM375.1 284.3L375.0 288.7L374.0 287.5L372.6 287.8ZM366.5 266.4L366.2 270.8L365.3 269.6L363.8 269.8ZM409.1 280.3L405.4 282.6L405.9 281.2L404.7 280.1ZM365.1 372.6L368.5 369.9L368.3 371.4L369.5 372.4ZM353.6 285.1L355.3 289.2L353.9 288.5L352.7 289.4ZM389.0 247.7L386.8 251.6L386.5 250.1L385.0 249.7ZM410.3 209.7L407.4 212.9L407.4 211.4L406.1 210.7ZM407.2 260.8L403.9 263.7L404.1 262.2L402.8 261.4ZM383.7 234.1L381.7 238.0L381.4 236.5L379.9 236.2ZM377.2 222.6L375.5 226.7L375.0 225.2L373.5 225.0ZM364.7 195.4L363.2 199.6L362.7 198.2L361.2 198.0ZM316.4 379.7L316.0 384.1L315.1 382.8L313.6 383.0ZM311.5 361.1L310.7 365.5L309.9 364.1L308.4 364.3ZM359.0 373.8L355.2 375.9L355.7 374.5L354.6 373.4ZM290.3 435.0L294.7 435.4L293.5 436.3L293.8 437.8ZM317.0 451.1L320.3 448.3L320.1 449.8L321.3 450.6ZM296.6 457.6L300.7 456.1L300.0 457.4L300.9 458.6ZM323.7 470.4L326.3 466.9L326.4 468.4L327.8 469.0ZM343.8 463.1L344.8 458.8L345.5 460.1L347.0 460.1ZM357.0 447.1L356.0 442.9L357.2 443.8L358.6 443.0ZM331.5 364.3L329.3 368.2L329.0 366.7L327.5 366.3ZM361.3 376.5L362.0 380.9L360.8 379.9L359.4 380.5ZM374.8 364.4L374.0 368.7L373.2 367.4L371.7 367.5ZM429.4 441.3L427.3 437.5L428.7 438.0L429.9 436.9ZM414.4 457.4L414.3 453.0L415.3 454.2L416.8 453.8ZM392.3 460.6L394.3 456.7L394.7 458.2L396.2 458.5Z"/>
<g fill="#08ee1c">
<circle cx="346.8" cy="11.6" r="2.05"/>
<circle cx="370.3" cy="10.9" r="2.05"/>
<circle cx="389.6" cy="25" r="2.05"/>
<circle cx="346.7" cy="102.6" r="2.05"/>
<circle cx="314" cy="104.6" r="2.05"/>
<circle cx="291.7" cy="114.2" r="2.05"/>
<circle cx="277" cy="133" r="2.05"/>
<circle cx="323.1" cy="128.1" r="2.05"/>
<circle cx="340.7" cy="131" r="2.05"/>
<circle cx="358" cy="121.6" r="2.05"/>
<circle cx="378" cy="131.4" r="2.05"/>
<circle cx="360" cy="143.4" r="2.05"/>
<circle cx="309.7" cy="141.4" r="2.05"/>
<circle cx="293.8" cy="157" r="2.05"/>
<circle cx="311" cy="168.1" r="2.05"/>
<circle cx="398" cy="151" r="2.05"/>
<circle cx="383.7" cy="168.1" r="2.05"/>
<circle cx="410.6" cy="176" r="2.05"/>
<circle cx="450" cy="97" r="2.05"/>
<circle cx="442.7" cy="180.7" r="2.05"/>
<circle cx="461.6" cy="173.4" r="2.05"/>
<circle cx="482.4" cy="181" r="2.05"/>
<circle cx="469.6" cy="195" r="2.05"/>
<circle cx="451" cy="200" r="2.05"/>
<circle cx="492.6" cy="200" r="2.05"/>
<circle cx="473.6" cy="213.4" r="2.05"/>
<circle cx="501.6" cy="218.6" r="2.05"/>
<circle cx="487" cy="228" r="2.05"/>
<circle cx="469.8" cy="234" r="2.05"/>
<circle cx="496.7" cy="245.2" r="2.05"/>
<circle cx="460.7" cy="254" r="2.05"/>
<circle cx="481.1" cy="258.7" r="2.05"/>
<circle cx="387.7" cy="185.4" r="2.05"/>
<circle cx="423" cy="194.7" r="2.05"/>
<circle cx="413.1" cy="208.3" r="2.05"/>
<circle cx="317.7" cy="194" r="2.05"/>
<circle cx="340.9" cy="200.5" r="2.05"/>
<circle cx="357.3" cy="207.1" r="2.05"/>
<circle cx="315.5" cy="209.4" r="2.05"/>
<circle cx="293.6" cy="221.5" r="2.05"/>
<circle cx="327" cy="226.3" r="2.05"/>
<circle cx="314.4" cy="240" r="2.05"/>
<circle cx="386" cy="232" r="2.05"/>
<circle cx="374.1" cy="236.5" r="2.05"/>
<circle cx="391.4" cy="245.8" r="2.05"/>
<circle cx="410.1" cy="259.7" r="2.05"/>
<circle cx="349.6" cy="262.2" r="2.05"/>
<circle cx="367.9" cy="263.6" r="2.05"/>
<circle cx="385.2" cy="267.2" r="2.05"/>
<circle cx="333.9" cy="273.7" r="2.05"/>
<circle cx="304.1" cy="277.2" r="2.05"/>
<circle cx="353.7" cy="282" r="2.05"/>
<circle cx="376.5" cy="281.5" r="2.05"/>
<circle cx="392.1" cy="281.1" r="2.05"/>
<circle cx="412.2" cy="279.8" r="2.05"/>
<circle cx="427.5" cy="296.6" r="2.05"/>
<circle cx="446.5" cy="303.8" r="2.05"/>
<circle cx="327.8" cy="292.7" r="2.05"/>
<circle cx="341.4" cy="299.1" r="2.05"/>
<circle cx="319.1" cy="302" r="2.05"/>
<circle cx="393.7" cy="301" r="2.05"/>
<circle cx="373.6" cy="306" r="2.05"/>
<circle cx="429.6" cy="316.2" r="2.05"/>
<circle cx="455.3" cy="321.1" r="2.05"/>
<circle cx="418.7" cy="333.3" r="2.05"/>
<circle cx="437.8" cy="334.3" r="2.05"/>
<circle cx="454.4" cy="342.3" r="2.05"/>
<circle cx="324.1" cy="335.1" r="2.05"/>
<circle cx="335.5" cy="345.7" r="2.05"/>
<circle cx="376" cy="341" r="2.05"/>
<circle cx="359.7" cy="351" r="2.05"/>
<circle cx="313.1" cy="358.5" r="2.05"/>
<circle cx="333.9" cy="362.4" r="2.05"/>
<circle cx="376.5" cy="361.8" r="2.05"/>
<circle cx="362.1" cy="373.5" r="2.05"/>
<circle cx="403.9" cy="346.9" r="2.05"/>
<circle cx="426.5" cy="351.8" r="2.05"/>
<circle cx="443.1" cy="360" r="2.05"/>
<circle cx="393" cy="365.3" r="2.05"/>
<circle cx="411.6" cy="364.1" r="2.05"/>
<circle cx="425.4" cy="375" r="2.05"/>
<circle cx="398.4" cy="381.1" r="2.05"/>
<circle cx="294.8" cy="373.4" r="2.05"/>
<circle cx="318" cy="377" r="2.05"/>
<circle cx="240" cy="162.6" r="2.05"/>
<circle cx="220.6" cy="212.6" r="2.05"/>
<circle cx="197" cy="222.3" r="2.05"/>
<circle cx="210.5" cy="240.4" r="2.05"/>
<circle cx="197" cy="257" r="2.05"/>
<circle cx="280.4" cy="276.6" r="2.05"/>
<circle cx="226" cy="283.6" r="2.05"/>
<circle cx="220.2" cy="306.6" r="2.05"/>
<circle cx="264.5" cy="308.8" r="2.05"/>
<circle cx="284.4" cy="307.5" r="2.05"/>
<circle cx="253.6" cy="324" r="2.05"/>
<circle cx="279" cy="328.4" r="2.05"/>
<circle cx="239" cy="338.4" r="2.05"/>
<circle cx="261" cy="343.6" r="2.05"/>
<circle cx="280.6" cy="346.6" r="2.05"/>
<circle cx="296" cy="353.6" r="2.05"/>
<circle cx="274" cy="365.4" r="2.05"/>
<circle cx="492" cy="292.9" r="2.05"/>
<circle cx="287.6" cy="433.6" r="2.05"/>
<circle cx="314" cy="452" r="2.05"/>
<circle cx="293.5" cy="457.5" r="2.05"/>
<circle cx="321" cy="472" r="2.05"/>
<circle cx="342" cy="465.6" r="2.05"/>
<circle cx="356.5" cy="450.2" r="2.05"/>
<circle cx="429.7" cy="444.4" r="2.05"/>
<circle cx="413.2" cy="460.3" r="2.05"/>
<circle cx="389.9" cy="462.6" r="2.05"/>
</g><g fill="#ff0a0a">
<circle cx="351" cy="46.5" r="3.9"/>
<circle cx="367.1" cy="51" r="3.9"/>
<circle cx="325.4" cy="160.6" r="3.9"/>
<circle cx="347.1" cy="175.1" r="3.9"/>
<circle cx="423" cy="132.6" r="3.9"/>
<circle cx="281.4" cy="188.4" r="3.9"/>
<circle cx="266" cy="203.4" r="3.9"/>
<circle cx="367.9" cy="191.6" r="3.9"/>
<circle cx="380.7" cy="219" r="3.9"/>
<circle cx="348.7" cy="228.6" r="3.9"/>
<circle cx="336.3" cy="241.5" r="3.9"/>
<circle cx="435.1" cy="229.5" r="3.9"/>
<circle cx="247.4" cy="241.4" r="3.9"/>
<circle cx="304.1" cy="256" r="3.9"/>
<circle cx="445.2" cy="277.8" r="3.9"/>
<circle cx="530.6" cy="302.4" r="3.9"/>
<circle cx="272" cy="291.7" r="3.9"/>
<circle cx="298.4" cy="314.6" r="3.9"/>
<circle cx="320.8" cy="315" r="3.9"/>
<circle cx="359.4" cy="308.6" r="3.9"/>
<circle cx="389.1" cy="314.7" r="3.9"/>
<circle cx="331" cy="417.4" r="3.9"/>
<circle cx="391.7" cy="416.4" r="3.9"/>
</g>
<g font-family="Liberation Sans, Arial, sans-serif" font-size="4.6" fill="#525252" stroke="#525252" stroke-width="0.12">
<text transform="translate(349.5 20.1) rotate(0.15)">ZHD1</text>
<text transform="translate(373.0 19.4) rotate(0.15)">U2AF35B</text>
<text transform="translate(392.3 33.5) rotate(0.15)">ZHD4</text>
<text transform="translate(342.4 96.0) rotate(0.15)">GI</text>
<text transform="translate(316.7 113.1) rotate(0.15)">At1g01940</text>
<text transform="translate(294.4 122.7) rotate(0.15)">Sftpc</text>
<text transform="translate(279.7 141.5) rotate(0.15)">PRR73</text>
<text transform="translate(325.8 136.6) rotate(0.15)">AMP1</text>
<text transform="translate(343.4 139.5) rotate(0.15)">Os03g0120900</text>
<text transform="translate(360.7 130.1) rotate(0.15)">FRL4B</text>
<text transform="translate(380.7 139.9) rotate(0.15)">Os02g0680500</text>
<text transform="translate(362.7 151.9) rotate(0.15)">DIVARICATA</text>
<text transform="translate(312.4 149.9) rotate(0.15)">NPY3</text>
<text transform="translate(296.5 165.5) rotate(0.15)">FLXL2</text>
<text transform="translate(313.7 176.6) rotate(0.15)">COL5</text>
<text transform="translate(400.7 159.5) rotate(0.15)">GRP-2</text>
<text transform="translate(386.4 176.6) rotate(0.15)">RNS1</text>
<text transform="translate(413.3 184.5) rotate(0.15)">TIFY1A</text>
<text transform="translate(452.7 105.5) rotate(0.15)">SMAX1</text>
<text transform="translate(445.4 189.2) rotate(0.15)">SKP2A</text>
<text transform="translate(464.3 181.9) rotate(0.15)">IAA7</text>
<text transform="translate(485.1 189.5) rotate(0.15)">PIN1A</text>
<text transform="translate(472.3 203.5) rotate(0.15)">AGD3</text>
<text transform="translate(453.7 208.5) rotate(0.15)">GH3.5</text>
<text transform="translate(495.3 208.5) rotate(0.15)">PIN1C</text>
<text transform="translate(476.3 221.9) rotate(0.15)">TCP3</text>
<text transform="translate(504.3 227.1) rotate(0.15)">MYB88</text>
<text transform="translate(489.7 236.5) rotate(0.15)">MAX2</text>
<text transform="translate(472.5 242.5) rotate(0.15)">SAUR50</text>
<text transform="translate(499.4 253.7) rotate(0.15)">RAC5</text>
<text transform="translate(463.4 262.5) rotate(0.15)">ARF7</text>
<text transform="translate(483.8 267.2) rotate(0.15)">rnj</text>
<text transform="translate(390.4 193.9) rotate(0.15)">CRY1</text>
<text transform="translate(425.7 203.2) rotate(0.15)">4CLL7</text>
<text transform="translate(415.8 216.8) rotate(0.15)">TIR5</text>
<text transform="translate(320.4 202.5) rotate(0.15)">BLH9</text>
<text transform="translate(343.4 208.6) rotate(0.15)">NPR5</text>
<text transform="translate(361.4 215.2) rotate(0.15)">ROC2</text>
<text transform="translate(318.2 217.9) rotate(0.15)">YAB4</text>
<text transform="translate(296.3 230.0) rotate(0.15)">NAC098</text>
<text transform="translate(330.3 233.6) rotate(0.15)">SNCP</text>
<text transform="translate(317.7 248.0) rotate(0.15)">SPY</text>
<text transform="translate(388.7 240.5) rotate(0.15)">ARF2</text>
<text transform="translate(377.4 245.0) rotate(0.15)">ARF23</text>
<text transform="translate(394.1 254.3) rotate(0.15)">TAR2</text>
<text transform="translate(412.3 267.5) rotate(0.15)">LOX1.5</text>
<text transform="translate(352.3 270.7) rotate(0.15)">EIN2</text>
<text transform="translate(370.6 271.3) rotate(0.15)">WRKY48</text>
<text transform="translate(387.9 275.7) rotate(0.15)">RPK2</text>
<text transform="translate(336.6 282.2) rotate(0.15)">RR21</text>
<text transform="translate(306.5 284.5) rotate(0.15)">GIO1C</text>
<text transform="translate(356.5 289.7) rotate(0.15)">RAX2</text>
<text transform="translate(379.2 289.2) rotate(0.15)">BRX</text>
<text transform="translate(394.5 288.8) rotate(0.15)">HAT4</text>
<text transform="translate(414.9 288.3) rotate(0.15)">wdr26</text>
<text transform="translate(430.2 305.1) rotate(0.15)">BLH1</text>
<text transform="translate(449.2 312.3) rotate(0.15)">ACO2</text>
<text transform="translate(330.5 301.2) rotate(0.15)">At1g16060</text>
<text transform="translate(344.1 307.6) rotate(0.15)">BSR1</text>
<text transform="translate(321.8 310.5) rotate(0.15)">WRI1</text>
<text transform="translate(396.2 308.9) rotate(0.15)">LET6</text>
<text transform="translate(376.8 313.8) rotate(0.15)">SA</text>
<text transform="translate(432.3 324.7) rotate(0.15)">RAC2</text>
<text transform="translate(458.0 329.6) rotate(0.15)">HSD1</text>
<text transform="translate(421.4 341.8) rotate(0.15)">CPK28</text>
<text transform="translate(440.5 342.8) rotate(0.15)">MYB39</text>
<text transform="translate(457.4 349.6) rotate(0.15)">FLA4</text>
<text transform="translate(326.8 343.6) rotate(0.15)">USA10</text>
<text transform="translate(338.2 354.2) rotate(0.15)">HOX19</text>
<text transform="translate(378.7 349.5) rotate(0.15)">EDR1</text>
<text transform="translate(362.4 359.5) rotate(0.15)">PERK4</text>
<text transform="translate(315.8 367.0) rotate(0.15)">ENO1</text>
<text transform="translate(336.6 370.9) rotate(0.15)">GAM1</text>
<text transform="translate(379.2 370.3) rotate(0.15)">RMO4</text>
<text transform="translate(364.8 382.0) rotate(0.15)">FER</text>
<text transform="translate(406.0 354.7) rotate(0.15)">CIYA-3</text>
<text transform="translate(429.2 360.3) rotate(0.15)">PXG4</text>
<text transform="translate(445.8 368.5) rotate(0.15)">NAC083</text>
<text transform="translate(395.4 372.7) rotate(0.15)">CYP707A5</text>
<text transform="translate(413.9 371.9) rotate(0.15)">MAP1D</text>
<text transform="translate(428.1 383.5) rotate(0.15)">CRK7</text>
<text transform="translate(401.1 389.6) rotate(0.15)">GBF3</text>
<text transform="translate(297.5 381.9) rotate(0.15)">CRF3</text>
<text transform="translate(320.7 385.5) rotate(0.15)">ARR17</text>
<text transform="translate(242.7 171.1) rotate(0.15)">SPL5</text>
<text transform="translate(223.3 221.1) rotate(0.15)">TPP6</text>
<text transform="translate(199.7 230.8) rotate(0.15)">SWEET14</text>
<text transform="translate(213.2 248.9) rotate(0.15)">TPS1</text>
<text transform="translate(199.7 265.5) rotate(0.15)">SUS4</text>
<text transform="translate(283.1 285.1) rotate(0.15)">KNAT3</text>
<text transform="translate(228.7 292.1) rotate(0.15)">PSK</text>
<text transform="translate(222.9 315.1) rotate(0.15)">PSK3</text>
<text transform="translate(267.2 317.3) rotate(0.15)">At3g03100</text>
<text transform="translate(287.6 310.4) rotate(0.15)">GOACS</text>
<text transform="translate(256.3 332.5) rotate(0.15)">SN1</text>
<text transform="translate(281.7 336.9) rotate(0.15)">APX1</text>
<text transform="translate(241.7 346.9) rotate(0.15)">SNE</text>
<text transform="translate(263.7 352.1) rotate(0.15)">IDD1</text>
<text transform="translate(283.3 355.1) rotate(0.15)">RR9</text>
<text transform="translate(298.7 362.1) rotate(0.15)">GLU3</text>
<text transform="translate(276.7 373.9) rotate(0.15)">PSAH2</text>
<text transform="translate(494.7 301.4) rotate(0.15)">AHL21</text>
<text transform="translate(290.3 442.1) rotate(0.15)">PPME1</text>
<text transform="translate(316.7 460.5) rotate(0.15)">OST3</text>
<text transform="translate(296.2 466.0) rotate(0.15)">PRK2</text>
<text transform="translate(323.7 480.5) rotate(0.15)">PRK6</text>
<text transform="translate(344.7 474.1) rotate(0.15)">BET11</text>
<text transform="translate(359.2 458.7) rotate(0.15)">At2g41970</text>
<text transform="translate(432.4 452.9) rotate(0.15)">IBH1</text>
<text transform="translate(415.9 468.8) rotate(0.15)">BKI1</text>
<text transform="translate(392.6 471.1) rotate(0.15)">ASK8</text>
</g>
<g font-family="Liberation Sans, Arial, sans-serif" font-size="6.5" fill="#2159e0" stroke="#2159e0" stroke-width="0.12">
<text x="316" y="49.6">Flowering</text>
<text x="373" y="59.4">Photoperiod</text>
<text x="325" y="154.6">Circadian</text>
<text x="352.7" y="174.4">FD</text>
<text x="428" y="140.4">SL</text>
<text x="263" y="182.2">Phase transition</text>
<text x="264" y="215">SAM</text>
<text x="352.7" y="185.4">Fruit development</text>
<text x="386.8" y="219.7">JA</text>
<text x="334.9" y="216">Meristem</text>
<text x="329.5" y="223.8">development</text>
<text x="333.6" y="252.1">Flower organ</text>
<text x="333.6" y="261.1">development</text>
<text x="435.5" y="241.6">Auxin</text>
<text x="252" y="253">Sugars</text>
<text x="273.4" y="264.2">Inflorescence</text>
<text x="446" y="290">Carpel development</text>
<text x="483.9" y="318.8">Anther development</text>
<text x="249" y="302">Organ morphogenesis</text>
<text x="285" y="320.4">GA</text>
<text x="310.6" y="325.3">Cytokinin</text>
<text x="345.5" y="319.5">Ethylene</text>
<text x="384.7" y="325.3">ABA</text>
<text x="316" y="408">Pollen tube</text>
<text x="382" y="427">BR</text>
</g>
</svg>
</body></html>
